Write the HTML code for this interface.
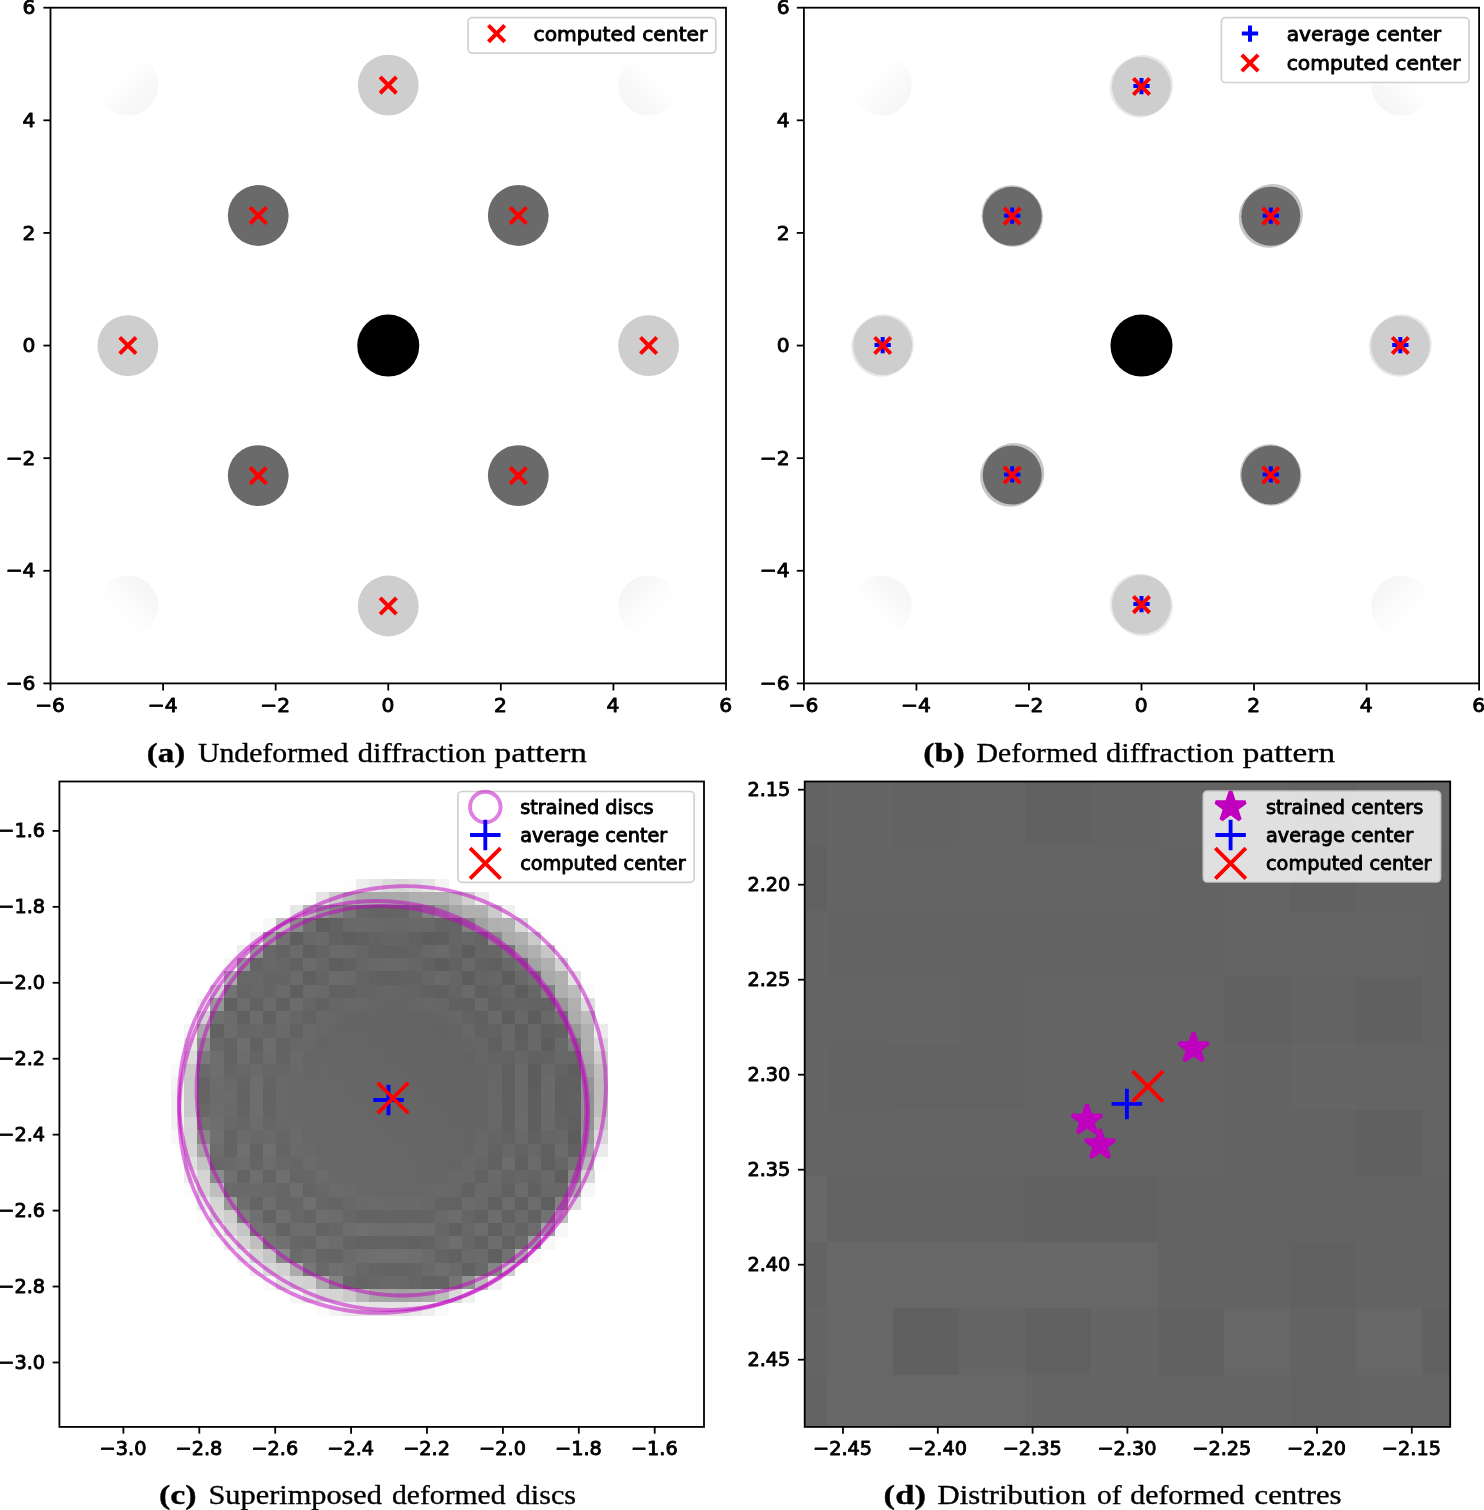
<!DOCTYPE html>
<html lang="en"><head><meta charset="utf-8"><title>Diffraction pattern figure</title>
<style>html,body{margin:0;padding:0;background:#fff}body{width:1484px;height:1510px;overflow:hidden}svg{display:block}text{stroke:#000;stroke-width:.9px;stroke-linejoin:round}.cap text{stroke-width:.35px}</style>
</head><body>
<svg width="1484" height="1510" viewBox="0 0 1484 1510" font-family='"DejaVu Sans","Liberation Sans",sans-serif' fill="#000">
<rect width="1484" height="1510" fill="#fff"/>
<g id="panel-a">
<clipPath id="clipa"><rect x="50.5" y="7.7" width="675.50" height="675.70"/></clipPath>
<g clip-path="url(#clipa)">
<linearGradient id="ga00" x1="0.146" y1="0.854" x2="0.854" y2="0.146"><stop offset="0.3" stop-color="#fff"/><stop offset="1" stop-color="#f5f5f5"/></linearGradient>
<circle cx="127.90" cy="605.98" r="30.4" fill="url(#ga00)"/>
<linearGradient id="ga02" x1="0.146" y1="0.146" x2="0.854" y2="0.854"><stop offset="0.3" stop-color="#fff"/><stop offset="1" stop-color="#f5f5f5"/></linearGradient>
<circle cx="127.90" cy="85.12" r="30.4" fill="url(#ga02)"/>
<linearGradient id="ga20" x1="0.854" y1="0.854" x2="0.146" y2="0.146"><stop offset="0.3" stop-color="#fff"/><stop offset="1" stop-color="#f5f5f5"/></linearGradient>
<circle cx="648.60" cy="605.98" r="30.4" fill="url(#ga20)"/>
<linearGradient id="ga22" x1="0.854" y1="0.146" x2="0.146" y2="0.854"><stop offset="0.3" stop-color="#fff"/><stop offset="1" stop-color="#f5f5f5"/></linearGradient>
<circle cx="648.60" cy="85.12" r="30.4" fill="url(#ga22)"/>
<circle cx="388.25" cy="85.12" r="30.4" fill="#cecece"/>
<circle cx="388.25" cy="605.98" r="30.4" fill="#cecece"/>
<circle cx="648.60" cy="345.55" r="30.4" fill="#cecece"/>
<circle cx="127.90" cy="345.55" r="30.4" fill="#cecece"/>
<circle cx="518.28" cy="215.48" r="30.4" fill="#6a6a6a"/>
<circle cx="258.22" cy="215.48" r="30.4" fill="#6a6a6a"/>
<circle cx="518.28" cy="475.62" r="30.4" fill="#6a6a6a"/>
<circle cx="258.22" cy="475.62" r="30.4" fill="#6a6a6a"/>
<circle cx="388.25" cy="345.55" r="31" fill="#000"/>
<path d="M380.10 76.97L396.40 93.27M380.10 93.27L396.40 76.97" stroke="#ff0000" stroke-width="4.0" fill="none"/>
<path d="M380.10 597.83L396.40 614.13M380.10 614.13L396.40 597.83" stroke="#ff0000" stroke-width="4.0" fill="none"/>
<path d="M640.45 337.40L656.75 353.70M640.45 353.70L656.75 337.40" stroke="#ff0000" stroke-width="4.0" fill="none"/>
<path d="M119.75 337.40L136.05 353.70M119.75 353.70L136.05 337.40" stroke="#ff0000" stroke-width="4.0" fill="none"/>
<path d="M510.13 207.33L526.43 223.63M510.13 223.63L526.43 207.33" stroke="#ff0000" stroke-width="4.0" fill="none"/>
<path d="M250.07 207.33L266.37 223.63M250.07 223.63L266.37 207.33" stroke="#ff0000" stroke-width="4.0" fill="none"/>
<path d="M510.13 467.47L526.43 483.77M510.13 483.77L526.43 467.47" stroke="#ff0000" stroke-width="4.0" fill="none"/>
<path d="M250.07 467.47L266.37 483.77M250.07 483.77L266.37 467.47" stroke="#ff0000" stroke-width="4.0" fill="none"/>
</g>
<rect x="50.5" y="7.7" width="675.50" height="675.70" fill="none" stroke="#000" stroke-width="1.8"/>
<path d="M50.50 683.4V690.50" stroke="#000" stroke-width="1.8"/>
<text x="50.10" y="712.36" font-size="20.25" text-anchor="middle">−6</text>
<path d="M163.08 683.4V690.50" stroke="#000" stroke-width="1.8"/>
<text x="162.68" y="712.36" font-size="20.25" text-anchor="middle">−4</text>
<path d="M275.67 683.4V690.50" stroke="#000" stroke-width="1.8"/>
<text x="275.27" y="712.36" font-size="20.25" text-anchor="middle">−2</text>
<path d="M388.25 683.4V690.50" stroke="#000" stroke-width="1.8"/>
<text x="387.85" y="712.36" font-size="20.25" text-anchor="middle">0</text>
<path d="M500.83 683.4V690.50" stroke="#000" stroke-width="1.8"/>
<text x="500.43" y="712.36" font-size="20.25" text-anchor="middle">2</text>
<path d="M613.42 683.4V690.50" stroke="#000" stroke-width="1.8"/>
<text x="613.02" y="712.36" font-size="20.25" text-anchor="middle">4</text>
<path d="M726.00 683.4V690.50" stroke="#000" stroke-width="1.8"/>
<text x="725.60" y="712.36" font-size="20.25" text-anchor="middle">6</text>
<path d="M50.5 683.40H43.40" stroke="#000" stroke-width="1.8"/>
<text x="35.50" y="689.98" font-size="20.25" text-anchor="end">−6</text>
<path d="M50.5 570.78H43.40" stroke="#000" stroke-width="1.8"/>
<text x="35.50" y="577.36" font-size="20.25" text-anchor="end">−4</text>
<path d="M50.5 458.17H43.40" stroke="#000" stroke-width="1.8"/>
<text x="35.50" y="464.75" font-size="20.25" text-anchor="end">−2</text>
<path d="M50.5 345.55H43.40" stroke="#000" stroke-width="1.8"/>
<text x="35.50" y="352.13" font-size="20.25" text-anchor="end">0</text>
<path d="M50.5 232.93H43.40" stroke="#000" stroke-width="1.8"/>
<text x="35.50" y="239.51" font-size="20.25" text-anchor="end">2</text>
<path d="M50.5 120.32H43.40" stroke="#000" stroke-width="1.8"/>
<text x="35.50" y="126.90" font-size="20.25" text-anchor="end">4</text>
<path d="M50.5 7.70H43.40" stroke="#000" stroke-width="1.8"/>
<text x="35.50" y="14.28" font-size="20.25" text-anchor="end">6</text>
<rect x="468.1" y="17.6" width="247.70" height="35.50" rx="4" ry="4" fill="#fff" fill-opacity="0.8" stroke="#ccc" stroke-opacity="0.9" stroke-width="1.7"/>
<path d="M488.45 25.45L504.75 41.75M488.45 41.75L504.75 25.45" stroke="#ff0000" stroke-width="4.0" fill="none"/>
<text x="533.6" y="40.6" font-size="20.25">computed center</text>
</g>
<g id="panel-b">
<clipPath id="clipb"><rect x="803.9" y="7.7" width="675.20" height="675.70"/></clipPath>
<g clip-path="url(#clipb)">
<linearGradient id="gb00" x1="0.146" y1="0.854" x2="0.854" y2="0.146"><stop offset="0.3" stop-color="#fff"/><stop offset="1" stop-color="#f5f5f5"/></linearGradient>
<circle cx="881.27" cy="605.98" r="30.4" fill="url(#gb00)"/>
<linearGradient id="gb02" x1="0.146" y1="0.146" x2="0.854" y2="0.854"><stop offset="0.3" stop-color="#fff"/><stop offset="1" stop-color="#f5f5f5"/></linearGradient>
<circle cx="881.27" cy="85.12" r="30.4" fill="url(#gb02)"/>
<linearGradient id="gb20" x1="0.854" y1="0.854" x2="0.146" y2="0.146"><stop offset="0.3" stop-color="#fff"/><stop offset="1" stop-color="#f5f5f5"/></linearGradient>
<circle cx="1401.73" cy="605.98" r="30.4" fill="url(#gb20)"/>
<linearGradient id="gb22" x1="0.854" y1="0.146" x2="0.146" y2="0.854"><stop offset="0.3" stop-color="#fff"/><stop offset="1" stop-color="#f5f5f5"/></linearGradient>
<circle cx="1401.73" cy="85.12" r="30.4" fill="url(#gb22)"/>
<circle cx="1139.70" cy="87.53" r="30.099999999999998" fill="#e9e9e9"/>
<circle cx="1143.00" cy="85.03" r="30.099999999999998" fill="#e9e9e9"/>
<circle cx="1139.90" cy="603.77" r="30.099999999999998" fill="#e9e9e9"/>
<circle cx="1142.80" cy="606.17" r="30.099999999999998" fill="#e9e9e9"/>
<circle cx="1398.93" cy="346.75" r="30.099999999999998" fill="#e9e9e9"/>
<circle cx="1401.73" cy="344.35" r="30.099999999999998" fill="#e9e9e9"/>
<circle cx="883.87" cy="344.35" r="30.099999999999998" fill="#e9e9e9"/>
<circle cx="881.27" cy="346.65" r="30.099999999999998" fill="#e9e9e9"/>
<circle cx="1268.80" cy="217.75" r="30.099999999999998" fill="#c6c6c6"/>
<circle cx="1272.80" cy="214.15" r="30.099999999999998" fill="#c6c6c6"/>
<circle cx="1013.00" cy="216.75" r="30.099999999999998" fill="#c6c6c6"/>
<circle cx="1011.60" cy="215.35" r="30.099999999999998" fill="#c6c6c6"/>
<circle cx="1270.00" cy="474.35" r="30.099999999999998" fill="#c6c6c6"/>
<circle cx="1271.40" cy="475.75" r="30.099999999999998" fill="#c6c6c6"/>
<circle cx="1014.20" cy="473.15" r="30.099999999999998" fill="#c6c6c6"/>
<circle cx="1010.20" cy="476.75" r="30.099999999999998" fill="#c6c6c6"/>
<circle cx="1141.50" cy="86.53" r="29.5" fill="#cecece"/>
<circle cx="1141.50" cy="604.57" r="29.5" fill="#cecece"/>
<circle cx="1400.33" cy="345.55" r="29.5" fill="#cecece"/>
<circle cx="882.67" cy="345.55" r="29.5" fill="#cecece"/>
<circle cx="1270.80" cy="216.15" r="29.5" fill="#6a6a6a"/>
<circle cx="1012.20" cy="216.15" r="29.5" fill="#6a6a6a"/>
<circle cx="1270.80" cy="474.95" r="29.5" fill="#6a6a6a"/>
<circle cx="1012.20" cy="474.95" r="29.5" fill="#6a6a6a"/>
<circle cx="1141.50" cy="345.55" r="31" fill="#000"/>
<path d="M1133.35 86.03L1149.65 86.03M1141.50 77.88L1141.50 94.18" stroke="#0000ff" stroke-width="4.0" fill="none"/>
<path d="M1133.35 78.38L1149.65 94.68M1133.35 94.68L1149.65 78.38" stroke="#ff0000" stroke-width="4.0" fill="none"/>
<path d="M1133.35 604.07L1149.65 604.07M1141.50 595.92L1141.50 612.22" stroke="#0000ff" stroke-width="4.0" fill="none"/>
<path d="M1133.35 596.42L1149.65 612.72M1133.35 612.72L1149.65 596.42" stroke="#ff0000" stroke-width="4.0" fill="none"/>
<path d="M1392.18 345.05L1408.48 345.05M1400.33 336.90L1400.33 353.20" stroke="#0000ff" stroke-width="4.0" fill="none"/>
<path d="M1392.18 337.40L1408.48 353.70M1392.18 353.70L1408.48 337.40" stroke="#ff0000" stroke-width="4.0" fill="none"/>
<path d="M874.52 345.05L890.82 345.05M882.67 336.90L882.67 353.20" stroke="#0000ff" stroke-width="4.0" fill="none"/>
<path d="M874.52 337.40L890.82 353.70M874.52 353.70L890.82 337.40" stroke="#ff0000" stroke-width="4.0" fill="none"/>
<path d="M1262.65 215.65L1278.95 215.65M1270.80 207.50L1270.80 223.80" stroke="#0000ff" stroke-width="4.0" fill="none"/>
<path d="M1262.65 208.00L1278.95 224.30M1262.65 224.30L1278.95 208.00" stroke="#ff0000" stroke-width="4.0" fill="none"/>
<path d="M1004.05 215.65L1020.35 215.65M1012.20 207.50L1012.20 223.80" stroke="#0000ff" stroke-width="4.0" fill="none"/>
<path d="M1004.05 208.00L1020.35 224.30M1004.05 224.30L1020.35 208.00" stroke="#ff0000" stroke-width="4.0" fill="none"/>
<path d="M1262.65 474.45L1278.95 474.45M1270.80 466.30L1270.80 482.60" stroke="#0000ff" stroke-width="4.0" fill="none"/>
<path d="M1262.65 466.80L1278.95 483.10M1262.65 483.10L1278.95 466.80" stroke="#ff0000" stroke-width="4.0" fill="none"/>
<path d="M1004.05 474.45L1020.35 474.45M1012.20 466.30L1012.20 482.60" stroke="#0000ff" stroke-width="4.0" fill="none"/>
<path d="M1004.05 466.80L1020.35 483.10M1004.05 483.10L1020.35 466.80" stroke="#ff0000" stroke-width="4.0" fill="none"/>
</g>
<rect x="803.9" y="7.7" width="675.20" height="675.70" fill="none" stroke="#000" stroke-width="1.8"/>
<path d="M803.90 683.4V690.50" stroke="#000" stroke-width="1.8"/>
<text x="803.50" y="712.36" font-size="20.25" text-anchor="middle">−6</text>
<path d="M916.43 683.4V690.50" stroke="#000" stroke-width="1.8"/>
<text x="916.03" y="712.36" font-size="20.25" text-anchor="middle">−4</text>
<path d="M1028.97 683.4V690.50" stroke="#000" stroke-width="1.8"/>
<text x="1028.57" y="712.36" font-size="20.25" text-anchor="middle">−2</text>
<path d="M1141.50 683.4V690.50" stroke="#000" stroke-width="1.8"/>
<text x="1141.10" y="712.36" font-size="20.25" text-anchor="middle">0</text>
<path d="M1254.03 683.4V690.50" stroke="#000" stroke-width="1.8"/>
<text x="1253.63" y="712.36" font-size="20.25" text-anchor="middle">2</text>
<path d="M1366.57 683.4V690.50" stroke="#000" stroke-width="1.8"/>
<text x="1366.17" y="712.36" font-size="20.25" text-anchor="middle">4</text>
<path d="M1479.10 683.4V690.50" stroke="#000" stroke-width="1.8"/>
<text x="1478.70" y="712.36" font-size="20.25" text-anchor="middle">6</text>
<path d="M803.9 683.40H796.80" stroke="#000" stroke-width="1.8"/>
<text x="789.70" y="689.98" font-size="20.25" text-anchor="end">−6</text>
<path d="M803.9 570.78H796.80" stroke="#000" stroke-width="1.8"/>
<text x="789.70" y="577.36" font-size="20.25" text-anchor="end">−4</text>
<path d="M803.9 458.17H796.80" stroke="#000" stroke-width="1.8"/>
<text x="789.70" y="464.75" font-size="20.25" text-anchor="end">−2</text>
<path d="M803.9 345.55H796.80" stroke="#000" stroke-width="1.8"/>
<text x="789.70" y="352.13" font-size="20.25" text-anchor="end">0</text>
<path d="M803.9 232.93H796.80" stroke="#000" stroke-width="1.8"/>
<text x="789.70" y="239.51" font-size="20.25" text-anchor="end">2</text>
<path d="M803.9 120.32H796.80" stroke="#000" stroke-width="1.8"/>
<text x="789.70" y="126.90" font-size="20.25" text-anchor="end">4</text>
<path d="M803.9 7.70H796.80" stroke="#000" stroke-width="1.8"/>
<text x="789.70" y="14.28" font-size="20.25" text-anchor="end">6</text>
<rect x="1221.4" y="17.6" width="247.70" height="64.90" rx="4" ry="4" fill="#fff" fill-opacity="0.8" stroke="#ccc" stroke-opacity="0.9" stroke-width="1.7"/>
<path d="M1241.85 33.60L1258.15 33.60M1250.00 25.45L1250.00 41.75" stroke="#0000ff" stroke-width="4.0" fill="none"/>
<path d="M1241.85 54.85L1258.15 71.15M1241.85 71.15L1258.15 54.85" stroke="#ff0000" stroke-width="4.0" fill="none"/>
<text x="1286.7" y="41.0" font-size="20.25">average center</text>
<text x="1286.7" y="70.4" font-size="20.25">computed center</text>
</g>
<g id="panel-c">
<clipPath id="clipc"><rect x="59.4" y="781.5" width="644.60" height="645.40"/></clipPath>
<g clip-path="url(#clipc)">
<g shape-rendering="crispEdges">
<rect x="342.67" y="878.76" width="13.54" height="13.54" fill="#fdfdfd"/>
<rect x="355.91" y="878.76" width="13.54" height="13.54" fill="#ededed"/>
<rect x="369.15" y="878.76" width="13.54" height="13.54" fill="#e5e5e5"/>
<rect x="382.39" y="878.76" width="13.54" height="13.54" fill="#dadada"/>
<rect x="395.63" y="878.76" width="13.54" height="13.54" fill="#d8d8d8"/>
<rect x="408.87" y="878.76" width="13.54" height="13.54" fill="#dedede"/>
<rect x="422.11" y="878.76" width="13.54" height="13.54" fill="#e5e5e5"/>
<rect x="435.35" y="878.76" width="13.54" height="13.54" fill="#f4f4f4"/>
<rect x="302.95" y="892.00" width="13.54" height="13.54" fill="#fdfdfd"/>
<rect x="316.19" y="892.00" width="13.54" height="13.54" fill="#e5e5e5"/>
<rect x="329.43" y="892.00" width="13.54" height="13.54" fill="#cdcdcd"/>
<rect x="342.67" y="892.00" width="13.54" height="13.54" fill="#b7b7b7"/>
<rect x="355.91" y="892.00" width="13.54" height="13.54" fill="#aaaaaa"/>
<rect x="369.15" y="892.00" width="40.02" height="13.54" fill="#a9a9a9"/>
<rect x="408.87" y="892.00" width="13.54" height="13.54" fill="#afafaf"/>
<rect x="422.11" y="892.00" width="26.78" height="13.54" fill="#b0b0b0"/>
<rect x="448.59" y="892.00" width="13.54" height="13.54" fill="#bbbbbb"/>
<rect x="461.83" y="892.00" width="13.54" height="13.54" fill="#d1d1d1"/>
<rect x="475.07" y="892.00" width="13.54" height="13.54" fill="#ededed"/>
<rect x="289.71" y="905.24" width="13.54" height="13.54" fill="#e7e7e7"/>
<rect x="302.95" y="905.24" width="13.54" height="13.54" fill="#b7b7b7"/>
<rect x="316.19" y="905.24" width="13.54" height="13.54" fill="#959595"/>
<rect x="329.43" y="905.24" width="13.54" height="13.54" fill="#848484"/>
<rect x="342.67" y="905.24" width="13.54" height="13.54" fill="#747474"/>
<rect x="355.91" y="905.24" width="13.54" height="13.54" fill="#676767"/>
<rect x="369.15" y="905.24" width="26.78" height="13.54" fill="#646464"/>
<rect x="395.63" y="905.24" width="13.54" height="13.54" fill="#656565"/>
<rect x="408.87" y="905.24" width="13.54" height="13.54" fill="#6f6f6f"/>
<rect x="422.11" y="905.24" width="13.54" height="13.54" fill="#818181"/>
<rect x="435.35" y="905.24" width="13.54" height="13.54" fill="#949494"/>
<rect x="448.59" y="905.24" width="13.54" height="13.54" fill="#a6a6a6"/>
<rect x="461.83" y="905.24" width="26.78" height="13.54" fill="#b0b0b0"/>
<rect x="488.31" y="905.24" width="13.54" height="13.54" fill="#cacaca"/>
<rect x="501.55" y="905.24" width="13.54" height="13.54" fill="#f0f0f0"/>
<rect x="263.23" y="918.48" width="13.54" height="13.54" fill="#f8f8f8"/>
<rect x="276.47" y="918.48" width="13.54" height="13.54" fill="#c2c2c2"/>
<rect x="289.71" y="918.48" width="13.54" height="13.54" fill="#898989"/>
<rect x="302.95" y="918.48" width="13.54" height="13.54" fill="#6e6e6e"/>
<rect x="316.19" y="918.48" width="13.54" height="13.54" fill="#5e5e5e"/>
<rect x="329.43" y="918.48" width="13.54" height="13.54" fill="#626262"/>
<rect x="342.67" y="918.48" width="13.54" height="13.54" fill="#696969"/>
<rect x="355.91" y="918.48" width="13.54" height="13.54" fill="#6a6a6a"/>
<rect x="369.15" y="918.48" width="13.54" height="13.54" fill="#696969"/>
<rect x="382.39" y="918.48" width="26.78" height="13.54" fill="#686868"/>
<rect x="408.87" y="918.48" width="26.78" height="13.54" fill="#696969"/>
<rect x="435.35" y="918.48" width="13.54" height="13.54" fill="#636363"/>
<rect x="448.59" y="918.48" width="13.54" height="13.54" fill="#646464"/>
<rect x="461.83" y="918.48" width="13.54" height="13.54" fill="#828282"/>
<rect x="475.07" y="918.48" width="13.54" height="13.54" fill="#a2a2a2"/>
<rect x="488.31" y="918.48" width="13.54" height="13.54" fill="#b0b0b0"/>
<rect x="501.55" y="918.48" width="13.54" height="13.54" fill="#b2b2b2"/>
<rect x="514.79" y="918.48" width="13.54" height="13.54" fill="#d8d8d8"/>
<rect x="528.03" y="918.48" width="13.54" height="13.54" fill="#fdfdfd"/>
<rect x="249.99" y="931.72" width="13.54" height="13.54" fill="#f1f1f1"/>
<rect x="263.23" y="931.72" width="13.54" height="13.54" fill="#a0a0a0"/>
<rect x="276.47" y="931.72" width="13.54" height="13.54" fill="#717171"/>
<rect x="289.71" y="931.72" width="13.54" height="13.54" fill="#5f5f5f"/>
<rect x="302.95" y="931.72" width="13.54" height="13.54" fill="#686868"/>
<rect x="316.19" y="931.72" width="13.54" height="13.54" fill="#6a6a6a"/>
<rect x="329.43" y="931.72" width="13.54" height="13.54" fill="#616161"/>
<rect x="342.67" y="931.72" width="13.54" height="13.54" fill="#5e5e5e"/>
<rect x="355.91" y="931.72" width="13.54" height="13.54" fill="#606060"/>
<rect x="369.15" y="931.72" width="13.54" height="13.54" fill="#636363"/>
<rect x="382.39" y="931.72" width="13.54" height="13.54" fill="#656565"/>
<rect x="395.63" y="931.72" width="13.54" height="13.54" fill="#646464"/>
<rect x="408.87" y="931.72" width="13.54" height="13.54" fill="#616161"/>
<rect x="422.11" y="931.72" width="13.54" height="13.54" fill="#5d5d5d"/>
<rect x="435.35" y="931.72" width="13.54" height="13.54" fill="#5e5e5e"/>
<rect x="448.59" y="931.72" width="13.54" height="13.54" fill="#656565"/>
<rect x="461.83" y="931.72" width="13.54" height="13.54" fill="#686868"/>
<rect x="475.07" y="931.72" width="13.54" height="13.54" fill="#656565"/>
<rect x="488.31" y="931.72" width="13.54" height="13.54" fill="#8c8c8c"/>
<rect x="501.55" y="931.72" width="13.54" height="13.54" fill="#ababab"/>
<rect x="514.79" y="931.72" width="13.54" height="13.54" fill="#b0b0b0"/>
<rect x="528.03" y="931.72" width="13.54" height="13.54" fill="#cacaca"/>
<rect x="541.27" y="931.72" width="13.54" height="13.54" fill="#fdfdfd"/>
<rect x="236.75" y="944.96" width="13.54" height="13.54" fill="#eeeeee"/>
<rect x="249.99" y="944.96" width="13.54" height="13.54" fill="#959595"/>
<rect x="263.23" y="944.96" width="13.54" height="13.54" fill="#686868"/>
<rect x="276.47" y="944.96" width="13.54" height="13.54" fill="#636363"/>
<rect x="289.71" y="944.96" width="13.54" height="13.54" fill="#6b6b6b"/>
<rect x="302.95" y="944.96" width="13.54" height="13.54" fill="#5f5f5f"/>
<rect x="316.19" y="944.96" width="13.54" height="13.54" fill="#636363"/>
<rect x="329.43" y="944.96" width="13.54" height="13.54" fill="#6a6a6a"/>
<rect x="342.67" y="944.96" width="13.54" height="13.54" fill="#696969"/>
<rect x="355.91" y="944.96" width="13.54" height="13.54" fill="#656565"/>
<rect x="369.15" y="944.96" width="13.54" height="13.54" fill="#616161"/>
<rect x="382.39" y="944.96" width="26.78" height="13.54" fill="#606060"/>
<rect x="408.87" y="944.96" width="13.54" height="13.54" fill="#636363"/>
<rect x="422.11" y="944.96" width="13.54" height="13.54" fill="#676767"/>
<rect x="435.35" y="944.96" width="13.54" height="13.54" fill="#6a6a6a"/>
<rect x="448.59" y="944.96" width="13.54" height="13.54" fill="#646464"/>
<rect x="461.83" y="944.96" width="13.54" height="13.54" fill="#5c5c5c"/>
<rect x="475.07" y="944.96" width="13.54" height="13.54" fill="#656565"/>
<rect x="488.31" y="944.96" width="13.54" height="13.54" fill="#666666"/>
<rect x="501.55" y="944.96" width="13.54" height="13.54" fill="#777777"/>
<rect x="514.79" y="944.96" width="13.54" height="13.54" fill="#a6a6a6"/>
<rect x="528.03" y="944.96" width="13.54" height="13.54" fill="#b0b0b0"/>
<rect x="541.27" y="944.96" width="13.54" height="13.54" fill="#c6c6c6"/>
<rect x="554.51" y="944.96" width="13.54" height="13.54" fill="#fdfdfd"/>
<rect x="223.51" y="958.20" width="13.54" height="13.54" fill="#f7f7f7"/>
<rect x="236.75" y="958.20" width="13.54" height="13.54" fill="#939393"/>
<rect x="249.99" y="958.20" width="13.54" height="13.54" fill="#646464"/>
<rect x="263.23" y="958.20" width="13.54" height="13.54" fill="#686868"/>
<rect x="276.47" y="958.20" width="13.54" height="13.54" fill="#666666"/>
<rect x="289.71" y="958.20" width="13.54" height="13.54" fill="#616161"/>
<rect x="302.95" y="958.20" width="13.54" height="13.54" fill="#6b6b6b"/>
<rect x="316.19" y="958.20" width="13.54" height="13.54" fill="#666666"/>
<rect x="329.43" y="958.20" width="13.54" height="13.54" fill="#5e5e5e"/>
<rect x="342.67" y="958.20" width="13.54" height="13.54" fill="#616161"/>
<rect x="355.91" y="958.20" width="13.54" height="13.54" fill="#666666"/>
<rect x="369.15" y="958.20" width="13.54" height="13.54" fill="#686868"/>
<rect x="382.39" y="958.20" width="13.54" height="13.54" fill="#696969"/>
<rect x="395.63" y="958.20" width="13.54" height="13.54" fill="#686868"/>
<rect x="408.87" y="958.20" width="13.54" height="13.54" fill="#666666"/>
<rect x="422.11" y="958.20" width="13.54" height="13.54" fill="#616161"/>
<rect x="435.35" y="958.20" width="13.54" height="13.54" fill="#5d5d5d"/>
<rect x="448.59" y="958.20" width="13.54" height="13.54" fill="#616161"/>
<rect x="461.83" y="958.20" width="13.54" height="13.54" fill="#696969"/>
<rect x="475.07" y="958.20" width="13.54" height="13.54" fill="#616161"/>
<rect x="488.31" y="958.20" width="13.54" height="13.54" fill="#5f5f5f"/>
<rect x="501.55" y="958.20" width="13.54" height="13.54" fill="#686868"/>
<rect x="514.79" y="958.20" width="13.54" height="13.54" fill="#707070"/>
<rect x="528.03" y="958.20" width="13.54" height="13.54" fill="#a3a3a3"/>
<rect x="541.27" y="958.20" width="13.54" height="13.54" fill="#b0b0b0"/>
<rect x="554.51" y="958.20" width="13.54" height="13.54" fill="#d3d3d3"/>
<rect x="210.27" y="971.44" width="13.54" height="13.54" fill="#fdfdfd"/>
<rect x="223.51" y="971.44" width="13.54" height="13.54" fill="#ababab"/>
<rect x="236.75" y="971.44" width="13.54" height="13.54" fill="#676767"/>
<rect x="249.99" y="971.44" width="13.54" height="13.54" fill="#686868"/>
<rect x="263.23" y="971.44" width="26.78" height="13.54" fill="#656565"/>
<rect x="289.71" y="971.44" width="13.54" height="13.54" fill="#6b6b6b"/>
<rect x="302.95" y="971.44" width="13.54" height="13.54" fill="#5f5f5f"/>
<rect x="316.19" y="971.44" width="13.54" height="13.54" fill="#646464"/>
<rect x="329.43" y="971.44" width="13.54" height="13.54" fill="#6b6b6b"/>
<rect x="342.67" y="971.44" width="13.54" height="13.54" fill="#696969"/>
<rect x="355.91" y="971.44" width="13.54" height="13.54" fill="#646464"/>
<rect x="369.15" y="971.44" width="13.54" height="13.54" fill="#616161"/>
<rect x="382.39" y="971.44" width="13.54" height="13.54" fill="#606060"/>
<rect x="395.63" y="971.44" width="13.54" height="13.54" fill="#616161"/>
<rect x="408.87" y="971.44" width="13.54" height="13.54" fill="#626262"/>
<rect x="422.11" y="971.44" width="13.54" height="13.54" fill="#666666"/>
<rect x="435.35" y="971.44" width="13.54" height="13.54" fill="#6a6a6a"/>
<rect x="448.59" y="971.44" width="13.54" height="13.54" fill="#656565"/>
<rect x="461.83" y="971.44" width="13.54" height="13.54" fill="#5d5d5d"/>
<rect x="475.07" y="971.44" width="13.54" height="13.54" fill="#656565"/>
<rect x="488.31" y="971.44" width="13.54" height="13.54" fill="#666666"/>
<rect x="501.55" y="971.44" width="13.54" height="13.54" fill="#5d5d5d"/>
<rect x="514.79" y="971.44" width="13.54" height="13.54" fill="#696969"/>
<rect x="528.03" y="971.44" width="13.54" height="13.54" fill="#727272"/>
<rect x="541.27" y="971.44" width="13.54" height="13.54" fill="#a9a9a9"/>
<rect x="554.51" y="971.44" width="13.54" height="13.54" fill="#b0b0b0"/>
<rect x="567.75" y="971.44" width="13.54" height="13.54" fill="#e5e5e5"/>
<rect x="210.27" y="984.68" width="13.54" height="13.54" fill="#d5d5d5"/>
<rect x="223.51" y="984.68" width="13.54" height="13.54" fill="#737373"/>
<rect x="236.75" y="984.68" width="13.54" height="13.54" fill="#656565"/>
<rect x="249.99" y="984.68" width="13.54" height="13.54" fill="#676767"/>
<rect x="263.23" y="984.68" width="13.54" height="13.54" fill="#656565"/>
<rect x="276.47" y="984.68" width="13.54" height="13.54" fill="#6a6a6a"/>
<rect x="289.71" y="984.68" width="13.54" height="13.54" fill="#5f5f5f"/>
<rect x="302.95" y="984.68" width="13.54" height="13.54" fill="#6a6a6a"/>
<rect x="316.19" y="984.68" width="13.54" height="13.54" fill="#696969"/>
<rect x="329.43" y="984.68" width="26.78" height="13.54" fill="#616161"/>
<rect x="355.91" y="984.68" width="13.54" height="13.54" fill="#646464"/>
<rect x="369.15" y="984.68" width="13.54" height="13.54" fill="#656565"/>
<rect x="382.39" y="984.68" width="13.54" height="13.54" fill="#666666"/>
<rect x="395.63" y="984.68" width="13.54" height="13.54" fill="#656565"/>
<rect x="408.87" y="984.68" width="13.54" height="13.54" fill="#646464"/>
<rect x="422.11" y="984.68" width="13.54" height="13.54" fill="#616161"/>
<rect x="435.35" y="984.68" width="13.54" height="13.54" fill="#5f5f5f"/>
<rect x="448.59" y="984.68" width="13.54" height="13.54" fill="#646464"/>
<rect x="461.83" y="984.68" width="13.54" height="13.54" fill="#6a6a6a"/>
<rect x="475.07" y="984.68" width="13.54" height="13.54" fill="#5f5f5f"/>
<rect x="488.31" y="984.68" width="13.54" height="13.54" fill="#626262"/>
<rect x="501.55" y="984.68" width="13.54" height="13.54" fill="#676767"/>
<rect x="514.79" y="984.68" width="13.54" height="13.54" fill="#5d5d5d"/>
<rect x="528.03" y="984.68" width="13.54" height="13.54" fill="#676767"/>
<rect x="541.27" y="984.68" width="13.54" height="13.54" fill="#818181"/>
<rect x="554.51" y="984.68" width="13.54" height="13.54" fill="#afafaf"/>
<rect x="567.75" y="984.68" width="13.54" height="13.54" fill="#bbbbbb"/>
<rect x="580.99" y="984.68" width="13.54" height="13.54" fill="#fbfbfb"/>
<rect x="197.03" y="997.92" width="13.54" height="13.54" fill="#f4f4f4"/>
<rect x="210.27" y="997.92" width="13.54" height="13.54" fill="#969696"/>
<rect x="223.51" y="997.92" width="13.54" height="13.54" fill="#606060"/>
<rect x="236.75" y="997.92" width="13.54" height="13.54" fill="#6c6c6c"/>
<rect x="249.99" y="997.92" width="13.54" height="13.54" fill="#626262"/>
<rect x="263.23" y="997.92" width="13.54" height="13.54" fill="#6b6b6b"/>
<rect x="276.47" y="997.92" width="13.54" height="13.54" fill="#606060"/>
<rect x="289.71" y="997.92" width="13.54" height="13.54" fill="#6c6c6c"/>
<rect x="302.95" y="997.92" width="13.54" height="13.54" fill="#666666"/>
<rect x="316.19" y="997.92" width="13.54" height="13.54" fill="#616161"/>
<rect x="329.43" y="997.92" width="13.54" height="13.54" fill="#666666"/>
<rect x="342.67" y="997.92" width="13.54" height="13.54" fill="#686868"/>
<rect x="355.91" y="997.92" width="13.54" height="13.54" fill="#676767"/>
<rect x="369.15" y="997.92" width="13.54" height="13.54" fill="#666666"/>
<rect x="382.39" y="997.92" width="26.78" height="13.54" fill="#656565"/>
<rect x="408.87" y="997.92" width="13.54" height="13.54" fill="#666666"/>
<rect x="422.11" y="997.92" width="13.54" height="13.54" fill="#676767"/>
<rect x="435.35" y="997.92" width="13.54" height="13.54" fill="#666666"/>
<rect x="448.59" y="997.92" width="26.78" height="13.54" fill="#606060"/>
<rect x="475.07" y="997.92" width="13.54" height="13.54" fill="#6a6a6a"/>
<rect x="488.31" y="997.92" width="13.54" height="13.54" fill="#606060"/>
<rect x="501.55" y="997.92" width="13.54" height="13.54" fill="#636363"/>
<rect x="514.79" y="997.92" width="13.54" height="13.54" fill="#646464"/>
<rect x="528.03" y="997.92" width="13.54" height="13.54" fill="#626262"/>
<rect x="541.27" y="997.92" width="13.54" height="13.54" fill="#636363"/>
<rect x="554.51" y="997.92" width="13.54" height="13.54" fill="#989898"/>
<rect x="567.75" y="997.92" width="13.54" height="13.54" fill="#b0b0b0"/>
<rect x="580.99" y="997.92" width="13.54" height="13.54" fill="#dedede"/>
<rect x="197.03" y="1011.16" width="13.54" height="13.54" fill="#d3d3d3"/>
<rect x="210.27" y="1011.16" width="13.54" height="13.54" fill="#707070"/>
<rect x="223.51" y="1011.16" width="13.54" height="13.54" fill="#6b6b6b"/>
<rect x="236.75" y="1011.16" width="13.54" height="13.54" fill="#616161"/>
<rect x="249.99" y="1011.16" width="13.54" height="13.54" fill="#6d6d6d"/>
<rect x="263.23" y="1011.16" width="13.54" height="13.54" fill="#606060"/>
<rect x="276.47" y="1011.16" width="13.54" height="13.54" fill="#6b6b6b"/>
<rect x="289.71" y="1011.16" width="13.54" height="13.54" fill="#666666"/>
<rect x="302.95" y="1011.16" width="13.54" height="13.54" fill="#626262"/>
<rect x="316.19" y="1011.16" width="13.54" height="13.54" fill="#686868"/>
<rect x="329.43" y="1011.16" width="13.54" height="13.54" fill="#676767"/>
<rect x="342.67" y="1011.16" width="13.54" height="13.54" fill="#656565"/>
<rect x="355.91" y="1011.16" width="13.54" height="13.54" fill="#646464"/>
<rect x="369.15" y="1011.16" width="13.54" height="13.54" fill="#656565"/>
<rect x="382.39" y="1011.16" width="53.26" height="13.54" fill="#646464"/>
<rect x="435.35" y="1011.16" width="13.54" height="13.54" fill="#656565"/>
<rect x="448.59" y="1011.16" width="13.54" height="13.54" fill="#676767"/>
<rect x="461.83" y="1011.16" width="13.54" height="13.54" fill="#626262"/>
<rect x="475.07" y="1011.16" width="13.54" height="13.54" fill="#606060"/>
<rect x="488.31" y="1011.16" width="13.54" height="13.54" fill="#6a6a6a"/>
<rect x="501.55" y="1011.16" width="13.54" height="13.54" fill="#5d5d5d"/>
<rect x="514.79" y="1011.16" width="13.54" height="13.54" fill="#686868"/>
<rect x="528.03" y="1011.16" width="13.54" height="13.54" fill="#5d5d5d"/>
<rect x="541.27" y="1011.16" width="13.54" height="13.54" fill="#696969"/>
<rect x="554.51" y="1011.16" width="13.54" height="13.54" fill="#727272"/>
<rect x="567.75" y="1011.16" width="13.54" height="13.54" fill="#acacac"/>
<rect x="580.99" y="1011.16" width="13.54" height="13.54" fill="#bdbdbd"/>
<rect x="183.79" y="1024.40" width="13.54" height="13.54" fill="#f5f5f5"/>
<rect x="197.03" y="1024.40" width="13.54" height="13.54" fill="#a8a8a8"/>
<rect x="210.27" y="1024.40" width="13.54" height="13.54" fill="#616161"/>
<rect x="223.51" y="1024.40" width="13.54" height="13.54" fill="#6c6c6c"/>
<rect x="236.75" y="1024.40" width="13.54" height="13.54" fill="#666666"/>
<rect x="249.99" y="1024.40" width="13.54" height="13.54" fill="#676767"/>
<rect x="263.23" y="1024.40" width="13.54" height="13.54" fill="#666666"/>
<rect x="276.47" y="1024.40" width="13.54" height="13.54" fill="#6a6a6a"/>
<rect x="289.71" y="1024.40" width="13.54" height="13.54" fill="#626262"/>
<rect x="302.95" y="1024.40" width="13.54" height="13.54" fill="#696969"/>
<rect x="316.19" y="1024.40" width="13.54" height="13.54" fill="#676767"/>
<rect x="329.43" y="1024.40" width="92.98" height="13.54" fill="#656565"/>
<rect x="422.11" y="1024.40" width="13.54" height="13.54" fill="#646464"/>
<rect x="435.35" y="1024.40" width="13.54" height="13.54" fill="#636363"/>
<rect x="448.59" y="1024.40" width="13.54" height="13.54" fill="#646464"/>
<rect x="461.83" y="1024.40" width="13.54" height="13.54" fill="#676767"/>
<rect x="475.07" y="1024.40" width="13.54" height="13.54" fill="#616161"/>
<rect x="488.31" y="1024.40" width="13.54" height="13.54" fill="#626262"/>
<rect x="501.55" y="1024.40" width="13.54" height="13.54" fill="#686868"/>
<rect x="514.79" y="1024.40" width="13.54" height="13.54" fill="#5e5e5e"/>
<rect x="528.03" y="1024.40" width="13.54" height="13.54" fill="#686868"/>
<rect x="541.27" y="1024.40" width="13.54" height="13.54" fill="#606060"/>
<rect x="554.51" y="1024.40" width="13.54" height="13.54" fill="#626262"/>
<rect x="567.75" y="1024.40" width="13.54" height="13.54" fill="#999999"/>
<rect x="580.99" y="1024.40" width="13.54" height="13.54" fill="#b0b0b0"/>
<rect x="594.23" y="1024.40" width="13.54" height="13.54" fill="#ebebeb"/>
<rect x="183.79" y="1037.64" width="13.54" height="13.54" fill="#e6e6e6"/>
<rect x="197.03" y="1037.64" width="13.54" height="13.54" fill="#8e8e8e"/>
<rect x="210.27" y="1037.64" width="13.54" height="13.54" fill="#676767"/>
<rect x="223.51" y="1037.64" width="13.54" height="13.54" fill="#636363"/>
<rect x="236.75" y="1037.64" width="13.54" height="13.54" fill="#6e6e6e"/>
<rect x="249.99" y="1037.64" width="13.54" height="13.54" fill="#616161"/>
<rect x="263.23" y="1037.64" width="13.54" height="13.54" fill="#6d6d6d"/>
<rect x="276.47" y="1037.64" width="13.54" height="13.54" fill="#636363"/>
<rect x="289.71" y="1037.64" width="13.54" height="13.54" fill="#676767"/>
<rect x="302.95" y="1037.64" width="13.54" height="13.54" fill="#686868"/>
<rect x="316.19" y="1037.64" width="13.54" height="13.54" fill="#656565"/>
<rect x="329.43" y="1037.64" width="40.02" height="13.54" fill="#666666"/>
<rect x="369.15" y="1037.64" width="66.50" height="13.54" fill="#656565"/>
<rect x="435.35" y="1037.64" width="26.78" height="13.54" fill="#646464"/>
<rect x="461.83" y="1037.64" width="13.54" height="13.54" fill="#656565"/>
<rect x="475.07" y="1037.64" width="13.54" height="13.54" fill="#666666"/>
<rect x="488.31" y="1037.64" width="13.54" height="13.54" fill="#5f5f5f"/>
<rect x="501.55" y="1037.64" width="13.54" height="13.54" fill="#686868"/>
<rect x="514.79" y="1037.64" width="13.54" height="13.54" fill="#5f5f5f"/>
<rect x="528.03" y="1037.64" width="13.54" height="13.54" fill="#686868"/>
<rect x="541.27" y="1037.64" width="13.54" height="13.54" fill="#5d5d5d"/>
<rect x="554.51" y="1037.64" width="13.54" height="13.54" fill="#696969"/>
<rect x="567.75" y="1037.64" width="13.54" height="13.54" fill="#7e7e7e"/>
<rect x="580.99" y="1037.64" width="13.54" height="13.54" fill="#b0b0b0"/>
<rect x="594.23" y="1037.64" width="13.54" height="13.54" fill="#dcdcdc"/>
<rect x="183.79" y="1050.88" width="13.54" height="13.54" fill="#dbdbdb"/>
<rect x="197.03" y="1050.88" width="13.54" height="13.54" fill="#797979"/>
<rect x="210.27" y="1050.88" width="13.54" height="13.54" fill="#6e6e6e"/>
<rect x="223.51" y="1050.88" width="13.54" height="13.54" fill="#626262"/>
<rect x="236.75" y="1050.88" width="13.54" height="13.54" fill="#6c6c6c"/>
<rect x="249.99" y="1050.88" width="13.54" height="13.54" fill="#646464"/>
<rect x="263.23" y="1050.88" width="13.54" height="13.54" fill="#6b6b6b"/>
<rect x="276.47" y="1050.88" width="13.54" height="13.54" fill="#636363"/>
<rect x="289.71" y="1050.88" width="13.54" height="13.54" fill="#6a6a6a"/>
<rect x="302.95" y="1050.88" width="79.74" height="13.54" fill="#666666"/>
<rect x="382.39" y="1050.88" width="66.50" height="13.54" fill="#656565"/>
<rect x="448.59" y="1050.88" width="13.54" height="13.54" fill="#646464"/>
<rect x="461.83" y="1050.88" width="13.54" height="13.54" fill="#636363"/>
<rect x="475.07" y="1050.88" width="13.54" height="13.54" fill="#666666"/>
<rect x="488.31" y="1050.88" width="13.54" height="13.54" fill="#636363"/>
<rect x="501.55" y="1050.88" width="13.54" height="13.54" fill="#626262"/>
<rect x="514.79" y="1050.88" width="13.54" height="13.54" fill="#666666"/>
<rect x="528.03" y="1050.88" width="13.54" height="13.54" fill="#616161"/>
<rect x="541.27" y="1050.88" width="13.54" height="13.54" fill="#626262"/>
<rect x="554.51" y="1050.88" width="13.54" height="13.54" fill="#686868"/>
<rect x="567.75" y="1050.88" width="13.54" height="13.54" fill="#676767"/>
<rect x="580.99" y="1050.88" width="13.54" height="13.54" fill="#ababab"/>
<rect x="594.23" y="1050.88" width="13.54" height="13.54" fill="#cdcdcd"/>
<rect x="170.55" y="1064.12" width="13.54" height="13.54" fill="#fafafa"/>
<rect x="183.79" y="1064.12" width="13.54" height="13.54" fill="#c9c9c9"/>
<rect x="197.03" y="1064.12" width="13.54" height="13.54" fill="#696969"/>
<rect x="210.27" y="1064.12" width="13.54" height="13.54" fill="#6e6e6e"/>
<rect x="223.51" y="1064.12" width="13.54" height="13.54" fill="#656565"/>
<rect x="236.75" y="1064.12" width="13.54" height="13.54" fill="#676767"/>
<rect x="249.99" y="1064.12" width="13.54" height="13.54" fill="#6a6a6a"/>
<rect x="263.23" y="1064.12" width="26.78" height="13.54" fill="#666666"/>
<rect x="289.71" y="1064.12" width="13.54" height="13.54" fill="#696969"/>
<rect x="302.95" y="1064.12" width="13.54" height="13.54" fill="#666666"/>
<rect x="316.19" y="1064.12" width="13.54" height="13.54" fill="#676767"/>
<rect x="329.43" y="1064.12" width="66.50" height="13.54" fill="#666666"/>
<rect x="395.63" y="1064.12" width="66.50" height="13.54" fill="#656565"/>
<rect x="461.83" y="1064.12" width="13.54" height="13.54" fill="#646464"/>
<rect x="475.07" y="1064.12" width="13.54" height="13.54" fill="#656565"/>
<rect x="488.31" y="1064.12" width="13.54" height="13.54" fill="#666666"/>
<rect x="501.55" y="1064.12" width="13.54" height="13.54" fill="#5f5f5f"/>
<rect x="514.79" y="1064.12" width="13.54" height="13.54" fill="#6a6a6a"/>
<rect x="528.03" y="1064.12" width="13.54" height="13.54" fill="#5d5d5d"/>
<rect x="541.27" y="1064.12" width="13.54" height="13.54" fill="#686868"/>
<rect x="554.51" y="1064.12" width="13.54" height="13.54" fill="#636363"/>
<rect x="567.75" y="1064.12" width="13.54" height="13.54" fill="#5e5e5e"/>
<rect x="580.99" y="1064.12" width="13.54" height="13.54" fill="#a0a0a0"/>
<rect x="594.23" y="1064.12" width="13.54" height="13.54" fill="#bfbfbf"/>
<rect x="170.55" y="1077.36" width="13.54" height="13.54" fill="#f4f4f4"/>
<rect x="183.79" y="1077.36" width="13.54" height="13.54" fill="#c7c7c7"/>
<rect x="197.03" y="1077.36" width="13.54" height="13.54" fill="#646464"/>
<rect x="210.27" y="1077.36" width="13.54" height="13.54" fill="#6c6c6c"/>
<rect x="223.51" y="1077.36" width="13.54" height="13.54" fill="#696969"/>
<rect x="236.75" y="1077.36" width="13.54" height="13.54" fill="#646464"/>
<rect x="249.99" y="1077.36" width="13.54" height="13.54" fill="#6d6d6d"/>
<rect x="263.23" y="1077.36" width="13.54" height="13.54" fill="#646464"/>
<rect x="276.47" y="1077.36" width="13.54" height="13.54" fill="#696969"/>
<rect x="289.71" y="1077.36" width="13.54" height="13.54" fill="#686868"/>
<rect x="302.95" y="1077.36" width="40.02" height="13.54" fill="#676767"/>
<rect x="342.67" y="1077.36" width="66.50" height="13.54" fill="#666666"/>
<rect x="408.87" y="1077.36" width="66.50" height="13.54" fill="#656565"/>
<rect x="475.07" y="1077.36" width="13.54" height="13.54" fill="#646464"/>
<rect x="488.31" y="1077.36" width="13.54" height="13.54" fill="#676767"/>
<rect x="501.55" y="1077.36" width="13.54" height="13.54" fill="#5f5f5f"/>
<rect x="514.79" y="1077.36" width="13.54" height="13.54" fill="#6a6a6a"/>
<rect x="528.03" y="1077.36" width="13.54" height="13.54" fill="#5d5d5d"/>
<rect x="541.27" y="1077.36" width="13.54" height="13.54" fill="#6a6a6a"/>
<rect x="554.51" y="1077.36" width="26.78" height="13.54" fill="#606060"/>
<rect x="580.99" y="1077.36" width="13.54" height="13.54" fill="#959595"/>
<rect x="594.23" y="1077.36" width="13.54" height="13.54" fill="#bdbdbd"/>
<rect x="170.55" y="1090.60" width="13.54" height="13.54" fill="#f1f1f1"/>
<rect x="183.79" y="1090.60" width="13.54" height="13.54" fill="#c7c7c7"/>
<rect x="197.03" y="1090.60" width="13.54" height="13.54" fill="#646464"/>
<rect x="210.27" y="1090.60" width="26.78" height="13.54" fill="#6b6b6b"/>
<rect x="236.75" y="1090.60" width="13.54" height="13.54" fill="#636363"/>
<rect x="249.99" y="1090.60" width="13.54" height="13.54" fill="#6e6e6e"/>
<rect x="263.23" y="1090.60" width="13.54" height="13.54" fill="#636363"/>
<rect x="276.47" y="1090.60" width="13.54" height="13.54" fill="#696969"/>
<rect x="289.71" y="1090.60" width="13.54" height="13.54" fill="#686868"/>
<rect x="302.95" y="1090.60" width="53.26" height="13.54" fill="#676767"/>
<rect x="355.91" y="1090.60" width="66.50" height="13.54" fill="#666666"/>
<rect x="422.11" y="1090.60" width="53.26" height="13.54" fill="#656565"/>
<rect x="475.07" y="1090.60" width="13.54" height="13.54" fill="#646464"/>
<rect x="488.31" y="1090.60" width="13.54" height="13.54" fill="#676767"/>
<rect x="501.55" y="1090.60" width="13.54" height="13.54" fill="#606060"/>
<rect x="514.79" y="1090.60" width="13.54" height="13.54" fill="#6a6a6a"/>
<rect x="528.03" y="1090.60" width="13.54" height="13.54" fill="#5e5e5e"/>
<rect x="541.27" y="1090.60" width="13.54" height="13.54" fill="#6a6a6a"/>
<rect x="554.51" y="1090.60" width="13.54" height="13.54" fill="#5f5f5f"/>
<rect x="567.75" y="1090.60" width="13.54" height="13.54" fill="#616161"/>
<rect x="580.99" y="1090.60" width="13.54" height="13.54" fill="#919191"/>
<rect x="594.23" y="1090.60" width="13.54" height="13.54" fill="#bdbdbd"/>
<rect x="170.55" y="1103.84" width="13.54" height="13.54" fill="#f1f1f1"/>
<rect x="183.79" y="1103.84" width="13.54" height="13.54" fill="#c9c9c9"/>
<rect x="197.03" y="1103.84" width="13.54" height="13.54" fill="#686868"/>
<rect x="210.27" y="1103.84" width="13.54" height="13.54" fill="#6c6c6c"/>
<rect x="223.51" y="1103.84" width="13.54" height="13.54" fill="#6a6a6a"/>
<rect x="236.75" y="1103.84" width="13.54" height="13.54" fill="#646464"/>
<rect x="249.99" y="1103.84" width="13.54" height="13.54" fill="#6e6e6e"/>
<rect x="263.23" y="1103.84" width="13.54" height="13.54" fill="#646464"/>
<rect x="276.47" y="1103.84" width="13.54" height="13.54" fill="#696969"/>
<rect x="289.71" y="1103.84" width="13.54" height="13.54" fill="#686868"/>
<rect x="302.95" y="1103.84" width="66.50" height="13.54" fill="#676767"/>
<rect x="369.15" y="1103.84" width="66.50" height="13.54" fill="#666666"/>
<rect x="435.35" y="1103.84" width="40.02" height="13.54" fill="#656565"/>
<rect x="475.07" y="1103.84" width="13.54" height="13.54" fill="#646464"/>
<rect x="488.31" y="1103.84" width="13.54" height="13.54" fill="#686868"/>
<rect x="501.55" y="1103.84" width="13.54" height="13.54" fill="#606060"/>
<rect x="514.79" y="1103.84" width="13.54" height="13.54" fill="#6a6a6a"/>
<rect x="528.03" y="1103.84" width="13.54" height="13.54" fill="#5e5e5e"/>
<rect x="541.27" y="1103.84" width="13.54" height="13.54" fill="#6a6a6a"/>
<rect x="554.51" y="1103.84" width="13.54" height="13.54" fill="#606060"/>
<rect x="567.75" y="1103.84" width="13.54" height="13.54" fill="#616161"/>
<rect x="580.99" y="1103.84" width="13.54" height="13.54" fill="#919191"/>
<rect x="594.23" y="1103.84" width="13.54" height="13.54" fill="#bfbfbf"/>
<rect x="170.55" y="1117.08" width="13.54" height="13.54" fill="#f1f1f1"/>
<rect x="183.79" y="1117.08" width="13.54" height="13.54" fill="#d4d4d4"/>
<rect x="197.03" y="1117.08" width="13.54" height="13.54" fill="#727272"/>
<rect x="210.27" y="1117.08" width="13.54" height="13.54" fill="#6e6e6e"/>
<rect x="223.51" y="1117.08" width="13.54" height="13.54" fill="#686868"/>
<rect x="236.75" y="1117.08" width="13.54" height="13.54" fill="#666666"/>
<rect x="249.99" y="1117.08" width="13.54" height="13.54" fill="#6c6c6c"/>
<rect x="263.23" y="1117.08" width="13.54" height="13.54" fill="#666666"/>
<rect x="276.47" y="1117.08" width="13.54" height="13.54" fill="#686868"/>
<rect x="289.71" y="1117.08" width="13.54" height="13.54" fill="#696969"/>
<rect x="302.95" y="1117.08" width="79.74" height="13.54" fill="#676767"/>
<rect x="382.39" y="1117.08" width="66.50" height="13.54" fill="#666666"/>
<rect x="448.59" y="1117.08" width="40.02" height="13.54" fill="#656565"/>
<rect x="488.31" y="1117.08" width="13.54" height="13.54" fill="#676767"/>
<rect x="501.55" y="1117.08" width="13.54" height="13.54" fill="#606060"/>
<rect x="514.79" y="1117.08" width="13.54" height="13.54" fill="#6b6b6b"/>
<rect x="528.03" y="1117.08" width="13.54" height="13.54" fill="#5e5e5e"/>
<rect x="541.27" y="1117.08" width="13.54" height="13.54" fill="#6a6a6a"/>
<rect x="554.51" y="1117.08" width="13.54" height="13.54" fill="#626262"/>
<rect x="567.75" y="1117.08" width="13.54" height="13.54" fill="#5f5f5f"/>
<rect x="580.99" y="1117.08" width="13.54" height="13.54" fill="#919191"/>
<rect x="594.23" y="1117.08" width="13.54" height="13.54" fill="#cacaca"/>
<rect x="170.55" y="1130.32" width="13.54" height="13.54" fill="#f8f8f8"/>
<rect x="183.79" y="1130.32" width="13.54" height="13.54" fill="#d4d4d4"/>
<rect x="197.03" y="1130.32" width="13.54" height="13.54" fill="#888888"/>
<rect x="210.27" y="1130.32" width="13.54" height="13.54" fill="#707070"/>
<rect x="223.51" y="1130.32" width="13.54" height="13.54" fill="#646464"/>
<rect x="236.75" y="1130.32" width="13.54" height="13.54" fill="#6b6b6b"/>
<rect x="249.99" y="1130.32" width="13.54" height="13.54" fill="#686868"/>
<rect x="263.23" y="1130.32" width="13.54" height="13.54" fill="#6a6a6a"/>
<rect x="276.47" y="1130.32" width="13.54" height="13.54" fill="#666666"/>
<rect x="289.71" y="1130.32" width="13.54" height="13.54" fill="#6b6b6b"/>
<rect x="302.95" y="1130.32" width="13.54" height="13.54" fill="#676767"/>
<rect x="316.19" y="1130.32" width="13.54" height="13.54" fill="#686868"/>
<rect x="329.43" y="1130.32" width="66.50" height="13.54" fill="#676767"/>
<rect x="395.63" y="1130.32" width="66.50" height="13.54" fill="#666666"/>
<rect x="461.83" y="1130.32" width="13.54" height="13.54" fill="#656565"/>
<rect x="475.07" y="1130.32" width="13.54" height="13.54" fill="#676767"/>
<rect x="488.31" y="1130.32" width="13.54" height="13.54" fill="#656565"/>
<rect x="501.55" y="1130.32" width="13.54" height="13.54" fill="#626262"/>
<rect x="514.79" y="1130.32" width="13.54" height="13.54" fill="#696969"/>
<rect x="528.03" y="1130.32" width="13.54" height="13.54" fill="#606060"/>
<rect x="541.27" y="1130.32" width="13.54" height="13.54" fill="#666666"/>
<rect x="554.51" y="1130.32" width="13.54" height="13.54" fill="#676767"/>
<rect x="567.75" y="1130.32" width="13.54" height="13.54" fill="#5d5d5d"/>
<rect x="580.99" y="1130.32" width="13.54" height="13.54" fill="#979797"/>
<rect x="594.23" y="1130.32" width="13.54" height="13.54" fill="#d8d8d8"/>
<rect x="183.79" y="1143.56" width="13.54" height="13.54" fill="#d6d6d6"/>
<rect x="197.03" y="1143.56" width="13.54" height="13.54" fill="#a5a5a5"/>
<rect x="210.27" y="1143.56" width="13.54" height="13.54" fill="#6c6c6c"/>
<rect x="223.51" y="1143.56" width="13.54" height="13.54" fill="#636363"/>
<rect x="236.75" y="1143.56" width="13.54" height="13.54" fill="#6f6f6f"/>
<rect x="249.99" y="1143.56" width="13.54" height="13.54" fill="#636363"/>
<rect x="263.23" y="1143.56" width="13.54" height="13.54" fill="#6f6f6f"/>
<rect x="276.47" y="1143.56" width="13.54" height="13.54" fill="#646464"/>
<rect x="289.71" y="1143.56" width="13.54" height="13.54" fill="#6a6a6a"/>
<rect x="302.95" y="1143.56" width="13.54" height="13.54" fill="#696969"/>
<rect x="316.19" y="1143.56" width="13.54" height="13.54" fill="#676767"/>
<rect x="329.43" y="1143.56" width="13.54" height="13.54" fill="#686868"/>
<rect x="342.67" y="1143.56" width="66.50" height="13.54" fill="#676767"/>
<rect x="408.87" y="1143.56" width="53.26" height="13.54" fill="#666666"/>
<rect x="461.83" y="1143.56" width="13.54" height="13.54" fill="#656565"/>
<rect x="475.07" y="1143.56" width="13.54" height="13.54" fill="#686868"/>
<rect x="488.31" y="1143.56" width="13.54" height="13.54" fill="#626262"/>
<rect x="501.55" y="1143.56" width="13.54" height="13.54" fill="#676767"/>
<rect x="514.79" y="1143.56" width="13.54" height="13.54" fill="#636363"/>
<rect x="528.03" y="1143.56" width="13.54" height="13.54" fill="#676767"/>
<rect x="541.27" y="1143.56" width="13.54" height="13.54" fill="#606060"/>
<rect x="554.51" y="1143.56" width="13.54" height="13.54" fill="#6b6b6b"/>
<rect x="567.75" y="1143.56" width="13.54" height="13.54" fill="#616161"/>
<rect x="580.99" y="1143.56" width="13.54" height="13.54" fill="#a2a2a2"/>
<rect x="594.23" y="1143.56" width="13.54" height="13.54" fill="#ebebeb"/>
<rect x="183.79" y="1156.80" width="13.54" height="13.54" fill="#e0e0e0"/>
<rect x="197.03" y="1156.80" width="13.54" height="13.54" fill="#c4c4c4"/>
<rect x="210.27" y="1156.80" width="13.54" height="13.54" fill="#686868"/>
<rect x="223.51" y="1156.80" width="13.54" height="13.54" fill="#6a6a6a"/>
<rect x="236.75" y="1156.80" width="13.54" height="13.54" fill="#6c6c6c"/>
<rect x="249.99" y="1156.80" width="13.54" height="13.54" fill="#656565"/>
<rect x="263.23" y="1156.80" width="13.54" height="13.54" fill="#6c6c6c"/>
<rect x="276.47" y="1156.80" width="13.54" height="13.54" fill="#686868"/>
<rect x="289.71" y="1156.80" width="13.54" height="13.54" fill="#666666"/>
<rect x="302.95" y="1156.80" width="13.54" height="13.54" fill="#6b6b6b"/>
<rect x="316.19" y="1156.80" width="13.54" height="13.54" fill="#686868"/>
<rect x="329.43" y="1156.80" width="13.54" height="13.54" fill="#676767"/>
<rect x="342.67" y="1156.80" width="13.54" height="13.54" fill="#686868"/>
<rect x="355.91" y="1156.80" width="66.50" height="13.54" fill="#676767"/>
<rect x="422.11" y="1156.80" width="26.78" height="13.54" fill="#666666"/>
<rect x="448.59" y="1156.80" width="13.54" height="13.54" fill="#656565"/>
<rect x="461.83" y="1156.80" width="13.54" height="13.54" fill="#686868"/>
<rect x="475.07" y="1156.80" width="13.54" height="13.54" fill="#666666"/>
<rect x="488.31" y="1156.80" width="13.54" height="13.54" fill="#616161"/>
<rect x="501.55" y="1156.80" width="13.54" height="13.54" fill="#6c6c6c"/>
<rect x="514.79" y="1156.80" width="13.54" height="13.54" fill="#5f5f5f"/>
<rect x="528.03" y="1156.80" width="13.54" height="13.54" fill="#6b6b6b"/>
<rect x="541.27" y="1156.80" width="13.54" height="13.54" fill="#5f5f5f"/>
<rect x="554.51" y="1156.80" width="13.54" height="13.54" fill="#666666"/>
<rect x="567.75" y="1156.80" width="13.54" height="13.54" fill="#737373"/>
<rect x="580.99" y="1156.80" width="13.54" height="13.54" fill="#b9b9b9"/>
<rect x="594.23" y="1156.80" width="13.54" height="13.54" fill="#fdfdfd"/>
<rect x="183.79" y="1170.04" width="13.54" height="13.54" fill="#ededed"/>
<rect x="197.03" y="1170.04" width="13.54" height="13.54" fill="#d4d4d4"/>
<rect x="210.27" y="1170.04" width="13.54" height="13.54" fill="#8c8c8c"/>
<rect x="223.51" y="1170.04" width="13.54" height="13.54" fill="#707070"/>
<rect x="236.75" y="1170.04" width="13.54" height="13.54" fill="#636363"/>
<rect x="249.99" y="1170.04" width="13.54" height="13.54" fill="#6f6f6f"/>
<rect x="263.23" y="1170.04" width="13.54" height="13.54" fill="#636363"/>
<rect x="276.47" y="1170.04" width="13.54" height="13.54" fill="#6f6f6f"/>
<rect x="289.71" y="1170.04" width="13.54" height="13.54" fill="#656565"/>
<rect x="302.95" y="1170.04" width="13.54" height="13.54" fill="#676767"/>
<rect x="316.19" y="1170.04" width="13.54" height="13.54" fill="#6b6b6b"/>
<rect x="329.43" y="1170.04" width="13.54" height="13.54" fill="#686868"/>
<rect x="342.67" y="1170.04" width="79.74" height="13.54" fill="#676767"/>
<rect x="422.11" y="1170.04" width="26.78" height="13.54" fill="#666666"/>
<rect x="448.59" y="1170.04" width="13.54" height="13.54" fill="#686868"/>
<rect x="461.83" y="1170.04" width="13.54" height="13.54" fill="#676767"/>
<rect x="475.07" y="1170.04" width="13.54" height="13.54" fill="#616161"/>
<rect x="488.31" y="1170.04" width="13.54" height="13.54" fill="#6a6a6a"/>
<rect x="501.55" y="1170.04" width="13.54" height="13.54" fill="#646464"/>
<rect x="514.79" y="1170.04" width="13.54" height="13.54" fill="#666666"/>
<rect x="528.03" y="1170.04" width="13.54" height="13.54" fill="#646464"/>
<rect x="541.27" y="1170.04" width="13.54" height="13.54" fill="#696969"/>
<rect x="554.51" y="1170.04" width="13.54" height="13.54" fill="#5e5e5e"/>
<rect x="567.75" y="1170.04" width="13.54" height="13.54" fill="#878787"/>
<rect x="580.99" y="1170.04" width="13.54" height="13.54" fill="#d8d8d8"/>
<rect x="183.79" y="1183.28" width="13.54" height="13.54" fill="#fbfbfb"/>
<rect x="197.03" y="1183.28" width="13.54" height="13.54" fill="#d6d6d6"/>
<rect x="210.27" y="1183.28" width="13.54" height="13.54" fill="#bfbfbf"/>
<rect x="223.51" y="1183.28" width="40.02" height="13.54" fill="#6a6a6a"/>
<rect x="263.23" y="1183.28" width="13.54" height="13.54" fill="#696969"/>
<rect x="276.47" y="1183.28" width="13.54" height="13.54" fill="#666666"/>
<rect x="289.71" y="1183.28" width="13.54" height="13.54" fill="#6e6e6e"/>
<rect x="302.95" y="1183.28" width="13.54" height="13.54" fill="#646464"/>
<rect x="316.19" y="1183.28" width="13.54" height="13.54" fill="#676767"/>
<rect x="329.43" y="1183.28" width="13.54" height="13.54" fill="#6b6b6b"/>
<rect x="342.67" y="1183.28" width="13.54" height="13.54" fill="#6a6a6a"/>
<rect x="355.91" y="1183.28" width="13.54" height="13.54" fill="#686868"/>
<rect x="369.15" y="1183.28" width="53.26" height="13.54" fill="#676767"/>
<rect x="422.11" y="1183.28" width="13.54" height="13.54" fill="#686868"/>
<rect x="435.35" y="1183.28" width="13.54" height="13.54" fill="#696969"/>
<rect x="448.59" y="1183.28" width="13.54" height="13.54" fill="#676767"/>
<rect x="461.83" y="1183.28" width="13.54" height="13.54" fill="#616161"/>
<rect x="475.07" y="1183.28" width="13.54" height="13.54" fill="#696969"/>
<rect x="488.31" y="1183.28" width="13.54" height="13.54" fill="#686868"/>
<rect x="501.55" y="1183.28" width="13.54" height="13.54" fill="#616161"/>
<rect x="514.79" y="1183.28" width="13.54" height="13.54" fill="#6b6b6b"/>
<rect x="528.03" y="1183.28" width="13.54" height="13.54" fill="#606060"/>
<rect x="541.27" y="1183.28" width="26.78" height="13.54" fill="#686868"/>
<rect x="567.75" y="1183.28" width="13.54" height="13.54" fill="#a9a9a9"/>
<rect x="580.99" y="1183.28" width="13.54" height="13.54" fill="#f6f6f6"/>
<rect x="197.03" y="1196.52" width="13.54" height="13.54" fill="#eaeaea"/>
<rect x="210.27" y="1196.52" width="13.54" height="13.54" fill="#d4d4d4"/>
<rect x="223.51" y="1196.52" width="13.54" height="13.54" fill="#979797"/>
<rect x="236.75" y="1196.52" width="13.54" height="13.54" fill="#6e6e6e"/>
<rect x="249.99" y="1196.52" width="13.54" height="13.54" fill="#646464"/>
<rect x="263.23" y="1196.52" width="13.54" height="13.54" fill="#6e6e6e"/>
<rect x="276.47" y="1196.52" width="13.54" height="13.54" fill="#666666"/>
<rect x="289.71" y="1196.52" width="13.54" height="13.54" fill="#676767"/>
<rect x="302.95" y="1196.52" width="13.54" height="13.54" fill="#6f6f6f"/>
<rect x="316.19" y="1196.52" width="13.54" height="13.54" fill="#666666"/>
<rect x="329.43" y="1196.52" width="13.54" height="13.54" fill="#646464"/>
<rect x="342.67" y="1196.52" width="13.54" height="13.54" fill="#686868"/>
<rect x="355.91" y="1196.52" width="13.54" height="13.54" fill="#6a6a6a"/>
<rect x="369.15" y="1196.52" width="13.54" height="13.54" fill="#6b6b6b"/>
<rect x="382.39" y="1196.52" width="40.02" height="13.54" fill="#6a6a6a"/>
<rect x="422.11" y="1196.52" width="13.54" height="13.54" fill="#686868"/>
<rect x="435.35" y="1196.52" width="13.54" height="13.54" fill="#636363"/>
<rect x="448.59" y="1196.52" width="13.54" height="13.54" fill="#626262"/>
<rect x="461.83" y="1196.52" width="13.54" height="13.54" fill="#6b6b6b"/>
<rect x="475.07" y="1196.52" width="13.54" height="13.54" fill="#696969"/>
<rect x="488.31" y="1196.52" width="13.54" height="13.54" fill="#606060"/>
<rect x="501.55" y="1196.52" width="13.54" height="13.54" fill="#6c6c6c"/>
<rect x="514.79" y="1196.52" width="13.54" height="13.54" fill="#606060"/>
<rect x="528.03" y="1196.52" width="13.54" height="13.54" fill="#6c6c6c"/>
<rect x="541.27" y="1196.52" width="13.54" height="13.54" fill="#5f5f5f"/>
<rect x="554.51" y="1196.52" width="13.54" height="13.54" fill="#828282"/>
<rect x="567.75" y="1196.52" width="13.54" height="13.54" fill="#e0e0e0"/>
<rect x="197.03" y="1209.76" width="13.54" height="13.54" fill="#fbfbfb"/>
<rect x="210.27" y="1209.76" width="13.54" height="13.54" fill="#d9d9d9"/>
<rect x="223.51" y="1209.76" width="13.54" height="13.54" fill="#cdcdcd"/>
<rect x="236.75" y="1209.76" width="13.54" height="13.54" fill="#7c7c7c"/>
<rect x="249.99" y="1209.76" width="13.54" height="13.54" fill="#707070"/>
<rect x="263.23" y="1209.76" width="13.54" height="13.54" fill="#636363"/>
<rect x="276.47" y="1209.76" width="13.54" height="13.54" fill="#6f6f6f"/>
<rect x="289.71" y="1209.76" width="13.54" height="13.54" fill="#676767"/>
<rect x="302.95" y="1209.76" width="13.54" height="13.54" fill="#646464"/>
<rect x="316.19" y="1209.76" width="13.54" height="13.54" fill="#6e6e6e"/>
<rect x="329.43" y="1209.76" width="13.54" height="13.54" fill="#6c6c6c"/>
<rect x="342.67" y="1209.76" width="13.54" height="13.54" fill="#666666"/>
<rect x="355.91" y="1209.76" width="26.78" height="13.54" fill="#636363"/>
<rect x="382.39" y="1209.76" width="13.54" height="13.54" fill="#646464"/>
<rect x="395.63" y="1209.76" width="26.78" height="13.54" fill="#636363"/>
<rect x="422.11" y="1209.76" width="13.54" height="13.54" fill="#646464"/>
<rect x="435.35" y="1209.76" width="13.54" height="13.54" fill="#696969"/>
<rect x="448.59" y="1209.76" width="13.54" height="13.54" fill="#6d6d6d"/>
<rect x="461.83" y="1209.76" width="13.54" height="13.54" fill="#656565"/>
<rect x="475.07" y="1209.76" width="13.54" height="13.54" fill="#616161"/>
<rect x="488.31" y="1209.76" width="13.54" height="13.54" fill="#6d6d6d"/>
<rect x="501.55" y="1209.76" width="13.54" height="13.54" fill="#616161"/>
<rect x="514.79" y="1209.76" width="13.54" height="13.54" fill="#6a6a6a"/>
<rect x="528.03" y="1209.76" width="13.54" height="13.54" fill="#616161"/>
<rect x="541.27" y="1209.76" width="13.54" height="13.54" fill="#727272"/>
<rect x="554.51" y="1209.76" width="13.54" height="13.54" fill="#bfbfbf"/>
<rect x="210.27" y="1223.00" width="13.54" height="13.54" fill="#f2f2f2"/>
<rect x="223.51" y="1223.00" width="13.54" height="13.54" fill="#d5d5d5"/>
<rect x="236.75" y="1223.00" width="13.54" height="13.54" fill="#c6c6c6"/>
<rect x="249.99" y="1223.00" width="13.54" height="13.54" fill="#737373"/>
<rect x="263.23" y="1223.00" width="13.54" height="13.54" fill="#707070"/>
<rect x="276.47" y="1223.00" width="13.54" height="13.54" fill="#636363"/>
<rect x="289.71" y="1223.00" width="13.54" height="13.54" fill="#6c6c6c"/>
<rect x="302.95" y="1223.00" width="13.54" height="13.54" fill="#6d6d6d"/>
<rect x="316.19" y="1223.00" width="13.54" height="13.54" fill="#636363"/>
<rect x="329.43" y="1223.00" width="13.54" height="13.54" fill="#666666"/>
<rect x="342.67" y="1223.00" width="13.54" height="13.54" fill="#6d6d6d"/>
<rect x="355.91" y="1223.00" width="13.54" height="13.54" fill="#6f6f6f"/>
<rect x="369.15" y="1223.00" width="13.54" height="13.54" fill="#6e6e6e"/>
<rect x="382.39" y="1223.00" width="26.78" height="13.54" fill="#6d6d6d"/>
<rect x="408.87" y="1223.00" width="13.54" height="13.54" fill="#6e6e6e"/>
<rect x="422.11" y="1223.00" width="13.54" height="13.54" fill="#6d6d6d"/>
<rect x="435.35" y="1223.00" width="13.54" height="13.54" fill="#666666"/>
<rect x="448.59" y="1223.00" width="13.54" height="13.54" fill="#606060"/>
<rect x="461.83" y="1223.00" width="13.54" height="13.54" fill="#676767"/>
<rect x="475.07" y="1223.00" width="13.54" height="13.54" fill="#6c6c6c"/>
<rect x="488.31" y="1223.00" width="13.54" height="13.54" fill="#606060"/>
<rect x="501.55" y="1223.00" width="13.54" height="13.54" fill="#6a6a6a"/>
<rect x="514.79" y="1223.00" width="13.54" height="13.54" fill="#636363"/>
<rect x="528.03" y="1223.00" width="13.54" height="13.54" fill="#6c6c6c"/>
<rect x="541.27" y="1223.00" width="13.54" height="13.54" fill="#a3a3a3"/>
<rect x="554.51" y="1223.00" width="13.54" height="13.54" fill="#f8f8f8"/>
<rect x="223.51" y="1236.24" width="13.54" height="13.54" fill="#ededed"/>
<rect x="236.75" y="1236.24" width="13.54" height="13.54" fill="#d4d4d4"/>
<rect x="249.99" y="1236.24" width="13.54" height="13.54" fill="#bfbfbf"/>
<rect x="263.23" y="1236.24" width="13.54" height="13.54" fill="#747474"/>
<rect x="276.47" y="1236.24" width="13.54" height="13.54" fill="#707070"/>
<rect x="289.71" y="1236.24" width="13.54" height="13.54" fill="#676767"/>
<rect x="302.95" y="1236.24" width="13.54" height="13.54" fill="#656565"/>
<rect x="316.19" y="1236.24" width="13.54" height="13.54" fill="#6f6f6f"/>
<rect x="329.43" y="1236.24" width="13.54" height="13.54" fill="#6c6c6c"/>
<rect x="342.67" y="1236.24" width="13.54" height="13.54" fill="#656565"/>
<rect x="355.91" y="1236.24" width="26.78" height="13.54" fill="#626262"/>
<rect x="382.39" y="1236.24" width="13.54" height="13.54" fill="#636363"/>
<rect x="395.63" y="1236.24" width="13.54" height="13.54" fill="#626262"/>
<rect x="408.87" y="1236.24" width="13.54" height="13.54" fill="#616161"/>
<rect x="422.11" y="1236.24" width="13.54" height="13.54" fill="#636363"/>
<rect x="435.35" y="1236.24" width="13.54" height="13.54" fill="#696969"/>
<rect x="448.59" y="1236.24" width="13.54" height="13.54" fill="#6e6e6e"/>
<rect x="461.83" y="1236.24" width="13.54" height="13.54" fill="#666666"/>
<rect x="475.07" y="1236.24" width="13.54" height="13.54" fill="#616161"/>
<rect x="488.31" y="1236.24" width="13.54" height="13.54" fill="#6d6d6d"/>
<rect x="501.55" y="1236.24" width="13.54" height="13.54" fill="#626262"/>
<rect x="514.79" y="1236.24" width="13.54" height="13.54" fill="#6c6c6c"/>
<rect x="528.03" y="1236.24" width="13.54" height="13.54" fill="#9c9c9c"/>
<rect x="541.27" y="1236.24" width="13.54" height="13.54" fill="#f7f7f7"/>
<rect x="236.75" y="1249.48" width="13.54" height="13.54" fill="#ededed"/>
<rect x="249.99" y="1249.48" width="13.54" height="13.54" fill="#d4d4d4"/>
<rect x="263.23" y="1249.48" width="13.54" height="13.54" fill="#c6c6c6"/>
<rect x="276.47" y="1249.48" width="13.54" height="13.54" fill="#878787"/>
<rect x="289.71" y="1249.48" width="13.54" height="13.54" fill="#6a6a6a"/>
<rect x="302.95" y="1249.48" width="13.54" height="13.54" fill="#6f6f6f"/>
<rect x="316.19" y="1249.48" width="13.54" height="13.54" fill="#656565"/>
<rect x="329.43" y="1249.48" width="13.54" height="13.54" fill="#646464"/>
<rect x="342.67" y="1249.48" width="13.54" height="13.54" fill="#6a6a6a"/>
<rect x="355.91" y="1249.48" width="13.54" height="13.54" fill="#6e6e6e"/>
<rect x="369.15" y="1249.48" width="40.02" height="13.54" fill="#6f6f6f"/>
<rect x="408.87" y="1249.48" width="13.54" height="13.54" fill="#6e6e6e"/>
<rect x="422.11" y="1249.48" width="13.54" height="13.54" fill="#6b6b6b"/>
<rect x="435.35" y="1249.48" width="13.54" height="13.54" fill="#646464"/>
<rect x="448.59" y="1249.48" width="13.54" height="13.54" fill="#616161"/>
<rect x="461.83" y="1249.48" width="13.54" height="13.54" fill="#6a6a6a"/>
<rect x="475.07" y="1249.48" width="13.54" height="13.54" fill="#6b6b6b"/>
<rect x="488.31" y="1249.48" width="13.54" height="13.54" fill="#606060"/>
<rect x="501.55" y="1249.48" width="13.54" height="13.54" fill="#717171"/>
<rect x="514.79" y="1249.48" width="13.54" height="13.54" fill="#a9a9a9"/>
<rect x="528.03" y="1249.48" width="13.54" height="13.54" fill="#f9f9f9"/>
<rect x="249.99" y="1262.72" width="13.54" height="13.54" fill="#efefef"/>
<rect x="263.23" y="1262.72" width="13.54" height="13.54" fill="#d8d8d8"/>
<rect x="276.47" y="1262.72" width="13.54" height="13.54" fill="#d2d2d2"/>
<rect x="289.71" y="1262.72" width="13.54" height="13.54" fill="#acacac"/>
<rect x="302.95" y="1262.72" width="13.54" height="13.54" fill="#777777"/>
<rect x="316.19" y="1262.72" width="13.54" height="13.54" fill="#696969"/>
<rect x="329.43" y="1262.72" width="13.54" height="13.54" fill="#707070"/>
<rect x="342.67" y="1262.72" width="13.54" height="13.54" fill="#6d6d6d"/>
<rect x="355.91" y="1262.72" width="13.54" height="13.54" fill="#676767"/>
<rect x="369.15" y="1262.72" width="13.54" height="13.54" fill="#646464"/>
<rect x="382.39" y="1262.72" width="26.78" height="13.54" fill="#636363"/>
<rect x="408.87" y="1262.72" width="13.54" height="13.54" fill="#656565"/>
<rect x="422.11" y="1262.72" width="13.54" height="13.54" fill="#6a6a6a"/>
<rect x="435.35" y="1262.72" width="13.54" height="13.54" fill="#6e6e6e"/>
<rect x="448.59" y="1262.72" width="13.54" height="13.54" fill="#6a6a6a"/>
<rect x="461.83" y="1262.72" width="13.54" height="13.54" fill="#616161"/>
<rect x="475.07" y="1262.72" width="13.54" height="13.54" fill="#696969"/>
<rect x="488.31" y="1262.72" width="13.54" height="13.54" fill="#858585"/>
<rect x="501.55" y="1262.72" width="13.54" height="13.54" fill="#cecece"/>
<rect x="263.23" y="1275.96" width="13.54" height="13.54" fill="#f9f9f9"/>
<rect x="276.47" y="1275.96" width="13.54" height="13.54" fill="#e1e1e1"/>
<rect x="289.71" y="1275.96" width="13.54" height="13.54" fill="#d4d4d4"/>
<rect x="302.95" y="1275.96" width="13.54" height="13.54" fill="#d0d0d0"/>
<rect x="316.19" y="1275.96" width="13.54" height="13.54" fill="#acacac"/>
<rect x="329.43" y="1275.96" width="13.54" height="13.54" fill="#858585"/>
<rect x="342.67" y="1275.96" width="13.54" height="13.54" fill="#686868"/>
<rect x="355.91" y="1275.96" width="13.54" height="13.54" fill="#656565"/>
<rect x="369.15" y="1275.96" width="13.54" height="13.54" fill="#676767"/>
<rect x="382.39" y="1275.96" width="13.54" height="13.54" fill="#696969"/>
<rect x="395.63" y="1275.96" width="13.54" height="13.54" fill="#686868"/>
<rect x="408.87" y="1275.96" width="13.54" height="13.54" fill="#656565"/>
<rect x="422.11" y="1275.96" width="13.54" height="13.54" fill="#626262"/>
<rect x="435.35" y="1275.96" width="13.54" height="13.54" fill="#636363"/>
<rect x="448.59" y="1275.96" width="13.54" height="13.54" fill="#757575"/>
<rect x="461.83" y="1275.96" width="13.54" height="13.54" fill="#919191"/>
<rect x="475.07" y="1275.96" width="13.54" height="13.54" fill="#bebebe"/>
<rect x="488.31" y="1275.96" width="13.54" height="13.54" fill="#f1f1f1"/>
<rect x="289.71" y="1289.20" width="13.54" height="13.54" fill="#f4f4f4"/>
<rect x="302.95" y="1289.20" width="13.54" height="13.54" fill="#e4e4e4"/>
<rect x="316.19" y="1289.20" width="13.54" height="13.54" fill="#d6d6d6"/>
<rect x="329.43" y="1289.20" width="13.54" height="13.54" fill="#d4d4d4"/>
<rect x="342.67" y="1289.20" width="13.54" height="13.54" fill="#cbcbcb"/>
<rect x="355.91" y="1289.20" width="13.54" height="13.54" fill="#b7b7b7"/>
<rect x="369.15" y="1289.20" width="13.54" height="13.54" fill="#a6a6a6"/>
<rect x="382.39" y="1289.20" width="13.54" height="13.54" fill="#a5a5a5"/>
<rect x="395.63" y="1289.20" width="13.54" height="13.54" fill="#a2a2a2"/>
<rect x="408.87" y="1289.20" width="13.54" height="13.54" fill="#a5a5a5"/>
<rect x="422.11" y="1289.20" width="13.54" height="13.54" fill="#a9a9a9"/>
<rect x="435.35" y="1289.20" width="13.54" height="13.54" fill="#bcbcbc"/>
<rect x="448.59" y="1289.20" width="13.54" height="13.54" fill="#d9d9d9"/>
<rect x="461.83" y="1289.20" width="13.54" height="13.54" fill="#f1f1f1"/>
<rect x="316.19" y="1302.44" width="13.54" height="13.54" fill="#fbfbfb"/>
<rect x="329.43" y="1302.44" width="13.54" height="13.54" fill="#f3f3f3"/>
<rect x="342.67" y="1302.44" width="13.54" height="13.54" fill="#eaeaea"/>
<rect x="355.91" y="1302.44" width="13.54" height="13.54" fill="#e4e4e4"/>
<rect x="369.15" y="1302.44" width="40.02" height="13.54" fill="#e2e2e2"/>
<rect x="408.87" y="1302.44" width="13.54" height="13.54" fill="#e8e8e8"/>
<rect x="422.11" y="1302.44" width="13.54" height="13.54" fill="#efefef"/>
<rect x="435.35" y="1302.44" width="13.54" height="13.54" fill="#fafafa"/>
</g>
<ellipse cx="0" cy="0" rx="200.0" ry="189.5" transform="translate(391.4 1100.7) rotate(45)" fill="none" stroke="#bf00bf" stroke-opacity="0.5" stroke-width="3.86"/>
<ellipse cx="0" cy="0" rx="220.0" ry="206.5" transform="translate(392.5 1099.5) rotate(-45)" fill="none" stroke="#bf00bf" stroke-opacity="0.5" stroke-width="3.86"/>
<ellipse cx="0" cy="0" rx="208.0" ry="201.0" transform="translate(383.5 1105.5) rotate(45)" fill="none" stroke="#bf00bf" stroke-opacity="0.5" stroke-width="3.86"/>
<path d="M373.25 1100.00L403.75 1100.00M388.50 1084.75L388.50 1115.25" stroke="#0000ff" stroke-width="3.86" fill="none"/>
<path d="M377.75 1082.75L408.25 1113.25M377.75 1113.25L408.25 1082.75" stroke="#ff0000" stroke-width="3.86" fill="none"/>
</g>
<rect x="59.4" y="781.5" width="644.60" height="645.40" fill="none" stroke="#000" stroke-width="1.8"/>
<path d="M123.40 1426.9V1433.66" stroke="#000" stroke-width="1.8"/>
<text x="123.00" y="1454.99" font-size="19.3" text-anchor="middle">−3.0</text>
<path d="M199.30 1426.9V1433.66" stroke="#000" stroke-width="1.8"/>
<text x="198.90" y="1454.99" font-size="19.3" text-anchor="middle">−2.8</text>
<path d="M275.20 1426.9V1433.66" stroke="#000" stroke-width="1.8"/>
<text x="274.80" y="1454.99" font-size="19.3" text-anchor="middle">−2.6</text>
<path d="M351.10 1426.9V1433.66" stroke="#000" stroke-width="1.8"/>
<text x="350.70" y="1454.99" font-size="19.3" text-anchor="middle">−2.4</text>
<path d="M427.00 1426.9V1433.66" stroke="#000" stroke-width="1.8"/>
<text x="426.60" y="1454.99" font-size="19.3" text-anchor="middle">−2.2</text>
<path d="M502.90 1426.9V1433.66" stroke="#000" stroke-width="1.8"/>
<text x="502.50" y="1454.99" font-size="19.3" text-anchor="middle">−2.0</text>
<path d="M578.80 1426.9V1433.66" stroke="#000" stroke-width="1.8"/>
<text x="578.40" y="1454.99" font-size="19.3" text-anchor="middle">−1.8</text>
<path d="M654.70 1426.9V1433.66" stroke="#000" stroke-width="1.8"/>
<text x="654.30" y="1454.99" font-size="19.3" text-anchor="middle">−1.6</text>
<path d="M59.4 830.90H52.64" stroke="#000" stroke-width="1.8"/>
<text x="45.08" y="837.13" font-size="19.3" text-anchor="end">−1.6</text>
<path d="M59.4 906.84H52.64" stroke="#000" stroke-width="1.8"/>
<text x="45.08" y="913.07" font-size="19.3" text-anchor="end">−1.8</text>
<path d="M59.4 982.78H52.64" stroke="#000" stroke-width="1.8"/>
<text x="45.08" y="989.01" font-size="19.3" text-anchor="end">−2.0</text>
<path d="M59.4 1058.72H52.64" stroke="#000" stroke-width="1.8"/>
<text x="45.08" y="1064.95" font-size="19.3" text-anchor="end">−2.2</text>
<path d="M59.4 1134.66H52.64" stroke="#000" stroke-width="1.8"/>
<text x="45.08" y="1140.89" font-size="19.3" text-anchor="end">−2.4</text>
<path d="M59.4 1210.60H52.64" stroke="#000" stroke-width="1.8"/>
<text x="45.08" y="1216.83" font-size="19.3" text-anchor="end">−2.6</text>
<path d="M59.4 1286.54H52.64" stroke="#000" stroke-width="1.8"/>
<text x="45.08" y="1292.77" font-size="19.3" text-anchor="end">−2.8</text>
<path d="M59.4 1362.48H52.64" stroke="#000" stroke-width="1.8"/>
<text x="45.08" y="1368.71" font-size="19.3" text-anchor="end">−3.0</text>
<rect x="457.9" y="791.5" width="236.30" height="90.80" rx="4" ry="4" fill="#fff" fill-opacity="0.8" stroke="#ccc" stroke-opacity="0.9" stroke-width="1.7"/>
<circle cx="485.3" cy="807.0" r="15.25" fill="none" stroke="#bf00bf" stroke-opacity="0.5" stroke-width="3.86"/>
<path d="M470.05 835.00L500.55 835.00M485.30 819.75L485.30 850.25" stroke="#0000ff" stroke-width="3.86" fill="none"/>
<path d="M470.05 848.05L500.55 878.55M470.05 878.55L500.55 848.05" stroke="#ff0000" stroke-width="3.86" fill="none"/>
<text x="520.2" y="814.3" font-size="19.3">strained discs</text>
<text x="520.2" y="842.0" font-size="19.3">average center</text>
<text x="520.2" y="869.8" font-size="19.3">computed center</text>
</g>
<g id="panel-d">
<clipPath id="clipd"><rect x="804.7" y="781.5" width="645.50" height="645.40"/></clipPath>
<g clip-path="url(#clipd)">
<rect x="804.7" y="781.5" width="645.50" height="645.40" fill="#646464"/>
<g shape-rendering="crispEdges">
<rect x="760.3" y="778.8" width="66.5" height="66.5" fill="#636363"/>
<rect x="826.5" y="778.8" width="66.5" height="66.5" fill="#656565"/>
<rect x="892.7" y="778.8" width="66.5" height="66.5" fill="#636363"/>
<rect x="958.9" y="778.8" width="66.5" height="66.5" fill="#656565"/>
<rect x="1025.1" y="778.8" width="66.5" height="66.5" fill="#616161"/>
<rect x="1091.3" y="778.8" width="66.5" height="66.5" fill="#636363"/>
<rect x="1223.7" y="778.8" width="66.5" height="66.5" fill="#636363"/>
<rect x="1289.9" y="778.8" width="66.5" height="66.5" fill="#616161"/>
<rect x="1356.1" y="778.8" width="66.5" height="66.5" fill="#636363"/>
<rect x="760.3" y="845.0" width="66.5" height="66.5" fill="#616161"/>
<rect x="826.5" y="845.0" width="66.5" height="66.5" fill="#656565"/>
<rect x="958.9" y="845.0" width="66.5" height="66.5" fill="#656565"/>
<rect x="1157.5" y="845.0" width="66.5" height="66.5" fill="#636363"/>
<rect x="1289.9" y="845.0" width="66.5" height="66.5" fill="#616161"/>
<rect x="1356.1" y="845.0" width="66.5" height="66.5" fill="#636363"/>
<rect x="1422.3" y="845.0" width="66.5" height="66.5" fill="#636363"/>
<rect x="760.3" y="911.2" width="66.5" height="66.5" fill="#656565"/>
<rect x="826.5" y="911.2" width="66.5" height="66.5" fill="#636363"/>
<rect x="892.7" y="911.2" width="66.5" height="66.5" fill="#636363"/>
<rect x="958.9" y="911.2" width="66.5" height="66.5" fill="#636363"/>
<rect x="1025.1" y="911.2" width="66.5" height="66.5" fill="#636363"/>
<rect x="1091.3" y="911.2" width="66.5" height="66.5" fill="#636363"/>
<rect x="1157.5" y="911.2" width="66.5" height="66.5" fill="#636363"/>
<rect x="1422.3" y="911.2" width="66.5" height="66.5" fill="#636363"/>
<rect x="892.7" y="977.4" width="66.5" height="66.5" fill="#656565"/>
<rect x="958.9" y="977.4" width="66.5" height="66.5" fill="#636363"/>
<rect x="1025.1" y="977.4" width="66.5" height="66.5" fill="#656565"/>
<rect x="1223.7" y="977.4" width="66.5" height="66.5" fill="#616161"/>
<rect x="1289.9" y="977.4" width="66.5" height="66.5" fill="#636363"/>
<rect x="1356.1" y="977.4" width="66.5" height="66.5" fill="#606060"/>
<rect x="1422.3" y="977.4" width="66.5" height="66.5" fill="#636363"/>
<rect x="760.3" y="1043.6" width="66.5" height="66.5" fill="#656565"/>
<rect x="826.5" y="1043.6" width="66.5" height="66.5" fill="#636363"/>
<rect x="892.7" y="1043.6" width="66.5" height="66.5" fill="#636363"/>
<rect x="958.9" y="1043.6" width="66.5" height="66.5" fill="#636363"/>
<rect x="1223.7" y="1043.6" width="66.5" height="66.5" fill="#636363"/>
<rect x="1289.9" y="1043.6" width="66.5" height="66.5" fill="#656565"/>
<rect x="892.7" y="1109.8" width="66.5" height="66.5" fill="#656565"/>
<rect x="958.9" y="1109.8" width="66.5" height="66.5" fill="#656565"/>
<rect x="1025.1" y="1109.8" width="66.5" height="66.5" fill="#656565"/>
<rect x="1223.7" y="1109.8" width="66.5" height="66.5" fill="#636363"/>
<rect x="1289.9" y="1109.8" width="66.5" height="66.5" fill="#636363"/>
<rect x="1356.1" y="1109.8" width="66.5" height="66.5" fill="#606060"/>
<rect x="760.3" y="1176.0" width="66.5" height="66.5" fill="#676767"/>
<rect x="826.5" y="1176.0" width="66.5" height="66.5" fill="#636363"/>
<rect x="892.7" y="1176.0" width="66.5" height="66.5" fill="#636363"/>
<rect x="958.9" y="1176.0" width="66.5" height="66.5" fill="#636363"/>
<rect x="1025.1" y="1176.0" width="66.5" height="66.5" fill="#616161"/>
<rect x="1091.3" y="1176.0" width="66.5" height="66.5" fill="#616161"/>
<rect x="1157.5" y="1176.0" width="66.5" height="66.5" fill="#636363"/>
<rect x="1223.7" y="1176.0" width="66.5" height="66.5" fill="#636363"/>
<rect x="1289.9" y="1176.0" width="66.5" height="66.5" fill="#636363"/>
<rect x="1356.1" y="1176.0" width="66.5" height="66.5" fill="#636363"/>
<rect x="1422.3" y="1176.0" width="66.5" height="66.5" fill="#636363"/>
<rect x="760.3" y="1242.2" width="66.5" height="66.5" fill="#636363"/>
<rect x="826.5" y="1242.2" width="66.5" height="66.5" fill="#676767"/>
<rect x="892.7" y="1242.2" width="66.5" height="66.5" fill="#676767"/>
<rect x="958.9" y="1242.2" width="66.5" height="66.5" fill="#686868"/>
<rect x="1025.1" y="1242.2" width="66.5" height="66.5" fill="#676767"/>
<rect x="1091.3" y="1242.2" width="66.5" height="66.5" fill="#676767"/>
<rect x="1157.5" y="1242.2" width="66.5" height="66.5" fill="#636363"/>
<rect x="1223.7" y="1242.2" width="66.5" height="66.5" fill="#636363"/>
<rect x="1289.9" y="1242.2" width="66.5" height="66.5" fill="#616161"/>
<rect x="1356.1" y="1242.2" width="66.5" height="66.5" fill="#636363"/>
<rect x="1422.3" y="1242.2" width="66.5" height="66.5" fill="#636363"/>
<rect x="760.3" y="1308.4" width="66.5" height="66.5" fill="#656565"/>
<rect x="826.5" y="1308.4" width="66.5" height="66.5" fill="#676767"/>
<rect x="892.7" y="1308.4" width="66.5" height="66.5" fill="#606060"/>
<rect x="958.9" y="1308.4" width="66.5" height="66.5" fill="#656565"/>
<rect x="1025.1" y="1308.4" width="66.5" height="66.5" fill="#616161"/>
<rect x="1091.3" y="1308.4" width="66.5" height="66.5" fill="#656565"/>
<rect x="1157.5" y="1308.4" width="66.5" height="66.5" fill="#616161"/>
<rect x="1223.7" y="1308.4" width="66.5" height="66.5" fill="#676767"/>
<rect x="1289.9" y="1308.4" width="66.5" height="66.5" fill="#636363"/>
<rect x="1356.1" y="1308.4" width="66.5" height="66.5" fill="#676767"/>
<rect x="1422.3" y="1308.4" width="66.5" height="66.5" fill="#616161"/>
<rect x="760.3" y="1374.6" width="66.5" height="66.5" fill="#636363"/>
<rect x="826.5" y="1374.6" width="66.5" height="66.5" fill="#686868"/>
<rect x="892.7" y="1374.6" width="66.5" height="66.5" fill="#676767"/>
<rect x="958.9" y="1374.6" width="66.5" height="66.5" fill="#686868"/>
<rect x="1025.1" y="1374.6" width="66.5" height="66.5" fill="#656565"/>
<rect x="1091.3" y="1374.6" width="66.5" height="66.5" fill="#656565"/>
<rect x="1223.7" y="1374.6" width="66.5" height="66.5" fill="#656565"/>
<rect x="1289.9" y="1374.6" width="66.5" height="66.5" fill="#636363"/>
<rect x="1422.3" y="1374.6" width="66.5" height="66.5" fill="#656565"/>
</g>
<polygon points="1193.50,1032.45 1197.01,1043.26 1208.38,1043.26 1199.19,1049.95 1202.70,1060.76 1193.50,1054.08 1184.30,1060.76 1187.81,1049.95 1178.62,1043.26 1189.99,1043.26" fill="#bf00bf" stroke="#bf00bf" stroke-width="3.86" stroke-linejoin="bevel"/>
<polygon points="1086.90,1104.55 1090.41,1115.36 1101.78,1115.36 1092.59,1122.05 1096.10,1132.86 1086.90,1126.18 1077.70,1132.86 1081.21,1122.05 1072.02,1115.36 1083.39,1115.36" fill="#bf00bf" stroke="#bf00bf" stroke-width="3.86" stroke-linejoin="bevel"/>
<polygon points="1100.00,1129.25 1103.51,1140.06 1114.88,1140.06 1105.69,1146.75 1109.20,1157.56 1100.00,1150.88 1090.80,1157.56 1094.31,1146.75 1085.12,1140.06 1096.49,1140.06" fill="#bf00bf" stroke="#bf00bf" stroke-width="3.86" stroke-linejoin="bevel"/>
<path d="M1111.65 1103.90L1142.15 1103.90M1126.90 1088.65L1126.90 1119.15" stroke="#0000ff" stroke-width="3.86" fill="none"/>
<path d="M1132.55 1071.15L1163.05 1101.65M1132.55 1101.65L1163.05 1071.15" stroke="#ff0000" stroke-width="3.86" fill="none"/>
</g>
<rect x="804.7" y="781.5" width="645.50" height="645.40" fill="none" stroke="#000" stroke-width="1.8"/>
<path d="M843.00 1426.9V1433.66" stroke="#000" stroke-width="1.8"/>
<text x="842.60" y="1454.99" font-size="19.3" text-anchor="middle">−2.45</text>
<path d="M937.80 1426.9V1433.66" stroke="#000" stroke-width="1.8"/>
<text x="937.40" y="1454.99" font-size="19.3" text-anchor="middle">−2.40</text>
<path d="M1032.60 1426.9V1433.66" stroke="#000" stroke-width="1.8"/>
<text x="1032.20" y="1454.99" font-size="19.3" text-anchor="middle">−2.35</text>
<path d="M1127.40 1426.9V1433.66" stroke="#000" stroke-width="1.8"/>
<text x="1127.00" y="1454.99" font-size="19.3" text-anchor="middle">−2.30</text>
<path d="M1222.20 1426.9V1433.66" stroke="#000" stroke-width="1.8"/>
<text x="1221.80" y="1454.99" font-size="19.3" text-anchor="middle">−2.25</text>
<path d="M1317.00 1426.9V1433.66" stroke="#000" stroke-width="1.8"/>
<text x="1316.60" y="1454.99" font-size="19.3" text-anchor="middle">−2.20</text>
<path d="M1411.80 1426.9V1433.66" stroke="#000" stroke-width="1.8"/>
<text x="1411.40" y="1454.99" font-size="19.3" text-anchor="middle">−2.15</text>
<path d="M804.7 789.70H797.94" stroke="#000" stroke-width="1.8"/>
<text x="790.38" y="795.93" font-size="19.3" text-anchor="end">2.15</text>
<path d="M804.7 884.70H797.94" stroke="#000" stroke-width="1.8"/>
<text x="790.38" y="890.93" font-size="19.3" text-anchor="end">2.20</text>
<path d="M804.7 979.70H797.94" stroke="#000" stroke-width="1.8"/>
<text x="790.38" y="985.93" font-size="19.3" text-anchor="end">2.25</text>
<path d="M804.7 1074.70H797.94" stroke="#000" stroke-width="1.8"/>
<text x="790.38" y="1080.93" font-size="19.3" text-anchor="end">2.30</text>
<path d="M804.7 1169.70H797.94" stroke="#000" stroke-width="1.8"/>
<text x="790.38" y="1175.93" font-size="19.3" text-anchor="end">2.35</text>
<path d="M804.7 1264.70H797.94" stroke="#000" stroke-width="1.8"/>
<text x="790.38" y="1270.93" font-size="19.3" text-anchor="end">2.40</text>
<path d="M804.7 1359.70H797.94" stroke="#000" stroke-width="1.8"/>
<text x="790.38" y="1365.93" font-size="19.3" text-anchor="end">2.45</text>
<rect x="1203.3" y="791.2" width="237.20" height="90.80" rx="4" ry="4" fill="#fff" fill-opacity="0.8" stroke="#ccc" stroke-opacity="0.9" stroke-width="1.7"/>
<polygon points="1230.60,791.35 1234.11,802.16 1245.48,802.16 1236.29,808.85 1239.80,819.66 1230.60,812.98 1221.40,819.66 1224.91,808.85 1215.72,802.16 1227.09,802.16" fill="#bf00bf" stroke="#bf00bf" stroke-width="3.86" stroke-linejoin="bevel"/>
<path d="M1215.35 835.00L1245.85 835.00M1230.60 819.75L1230.60 850.25" stroke="#0000ff" stroke-width="3.86" fill="none"/>
<path d="M1215.35 848.05L1245.85 878.55M1215.35 878.55L1245.85 848.05" stroke="#ff0000" stroke-width="3.86" fill="none"/>
<text x="1266.0" y="814.3" font-size="19.3">strained centers</text>
<text x="1266.0" y="842.0" font-size="19.3">average center</text>
<text x="1266.0" y="869.8" font-size="19.3">computed center</text>
</g>
<g class="cap" font-family='"Liberation Serif","DejaVu Serif",serif'><text x="146.8" y="761.9" font-size="28" font-weight="bold" textLength="38.5" lengthAdjust="spacingAndGlyphs">(a)</text><text x="197.9" y="761.9" font-size="28" textLength="150.4" lengthAdjust="spacingAndGlyphs">Undeformed</text><text x="357.7" y="761.9" font-size="28" textLength="128.1" lengthAdjust="spacingAndGlyphs">diffraction</text><text x="494.5" y="761.9" font-size="28" textLength="92.5" lengthAdjust="spacingAndGlyphs">pattern</text></g>
<g class="cap" font-family='"Liberation Serif","DejaVu Serif",serif'><text x="923.3" y="761.9" font-size="28" font-weight="bold" textLength="41.4" lengthAdjust="spacingAndGlyphs">(b)</text><text x="976.6" y="761.9" font-size="28" textLength="120.7" lengthAdjust="spacingAndGlyphs">Deformed</text><text x="1106.0" y="761.9" font-size="28" textLength="128.0" lengthAdjust="spacingAndGlyphs">diffraction</text><text x="1242.8" y="761.9" font-size="28" textLength="92.2" lengthAdjust="spacingAndGlyphs">pattern</text></g>
<g class="cap" font-family='"Liberation Serif","DejaVu Serif",serif'><text x="159.0" y="1503.5" font-size="28" font-weight="bold" textLength="37.6" lengthAdjust="spacingAndGlyphs">(c)</text><text x="208.5" y="1503.5" font-size="28" textLength="173.5" lengthAdjust="spacingAndGlyphs">Superimposed</text><text x="392.0" y="1503.5" font-size="28" textLength="113.5" lengthAdjust="spacingAndGlyphs">deformed</text><text x="515.8" y="1503.5" font-size="28" textLength="60.2" lengthAdjust="spacingAndGlyphs">discs</text></g>
<g class="cap" font-family='"Liberation Serif","DejaVu Serif",serif'><text x="883.6" y="1503.5" font-size="28" font-weight="bold" textLength="42.4" lengthAdjust="spacingAndGlyphs">(d)</text><text x="937.6" y="1503.5" font-size="28" textLength="148.4" lengthAdjust="spacingAndGlyphs">Distribution</text><text x="1097.0" y="1503.5" font-size="28" textLength="24.6" lengthAdjust="spacingAndGlyphs">of</text><text x="1130.3" y="1503.5" font-size="28" textLength="114.2" lengthAdjust="spacingAndGlyphs">deformed</text><text x="1254.5" y="1503.5" font-size="28" textLength="87.1" lengthAdjust="spacingAndGlyphs">centres</text></g>
</svg></body></html>
